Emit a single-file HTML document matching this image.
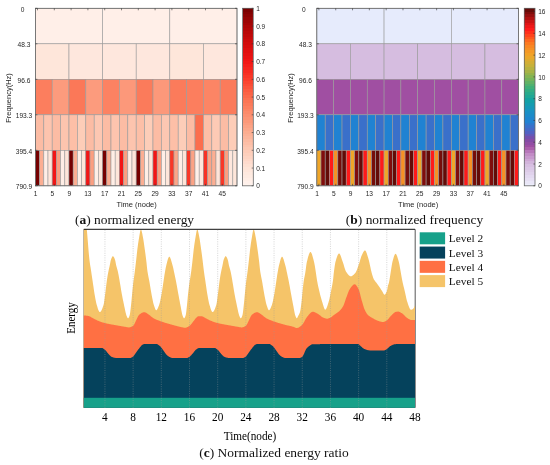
<!DOCTYPE html>
<html><head><meta charset="utf-8"><title>figure</title><style>html,body{margin:0;padding:0;background:#fff}svg{display:block}</style></head><body>
<svg width="550" height="465" viewBox="0 0 550 465">
<rect width="550" height="465" fill="#fff"/>
<rect x="35.40" y="8.30" width="67.20" height="35.50" fill="#ffefe8" stroke="#9a9a9a" stroke-width="0.6"/>
<rect x="102.60" y="8.30" width="67.20" height="35.50" fill="#ffefe8" stroke="#9a9a9a" stroke-width="0.6"/>
<rect x="169.80" y="8.30" width="67.20" height="35.50" fill="#ffefe8" stroke="#9a9a9a" stroke-width="0.6"/>
<rect x="35.40" y="43.80" width="33.60" height="35.50" fill="#fee6da" stroke="#9a9a9a" stroke-width="0.6"/>
<rect x="69.00" y="43.80" width="33.60" height="35.50" fill="#fee7dd" stroke="#9a9a9a" stroke-width="0.6"/>
<rect x="102.60" y="43.80" width="33.60" height="35.50" fill="#fee7dd" stroke="#9a9a9a" stroke-width="0.6"/>
<rect x="136.20" y="43.80" width="33.60" height="35.50" fill="#fee7dd" stroke="#9a9a9a" stroke-width="0.6"/>
<rect x="169.80" y="43.80" width="33.60" height="35.50" fill="#fee6da" stroke="#9a9a9a" stroke-width="0.6"/>
<rect x="203.40" y="43.80" width="33.60" height="35.50" fill="#fee7dd" stroke="#9a9a9a" stroke-width="0.6"/>
<rect x="35.40" y="79.30" width="16.80" height="35.50" fill="#fc7e5e" stroke="#9a9a9a" stroke-width="0.6"/>
<rect x="52.20" y="79.30" width="16.80" height="35.50" fill="#fc9b7d" stroke="#9a9a9a" stroke-width="0.6"/>
<rect x="69.00" y="79.30" width="16.80" height="35.50" fill="#fb7858" stroke="#9a9a9a" stroke-width="0.6"/>
<rect x="85.80" y="79.30" width="16.80" height="35.50" fill="#fc9b7d" stroke="#9a9a9a" stroke-width="0.6"/>
<rect x="102.60" y="79.30" width="16.80" height="35.50" fill="#fc8262" stroke="#9a9a9a" stroke-width="0.6"/>
<rect x="119.40" y="79.30" width="16.80" height="35.50" fill="#fc987a" stroke="#9a9a9a" stroke-width="0.6"/>
<rect x="136.20" y="79.30" width="16.80" height="35.50" fill="#fb7b5b" stroke="#9a9a9a" stroke-width="0.6"/>
<rect x="153.00" y="79.30" width="16.80" height="35.50" fill="#fc987a" stroke="#9a9a9a" stroke-width="0.6"/>
<rect x="169.80" y="79.30" width="16.80" height="35.50" fill="#fb7b5b" stroke="#9a9a9a" stroke-width="0.6"/>
<rect x="186.60" y="79.30" width="16.80" height="35.50" fill="#fc7e5e" stroke="#9a9a9a" stroke-width="0.6"/>
<rect x="203.40" y="79.30" width="16.80" height="35.50" fill="#fc8565" stroke="#9a9a9a" stroke-width="0.6"/>
<rect x="220.20" y="79.30" width="16.80" height="35.50" fill="#fb7b5b" stroke="#9a9a9a" stroke-width="0.6"/>
<rect x="35.40" y="114.80" width="8.40" height="35.50" fill="#fcbca4" stroke="#9a9a9a" stroke-width="0.6"/>
<rect x="43.80" y="114.80" width="8.40" height="35.50" fill="#fdc4ae" stroke="#9a9a9a" stroke-width="0.6"/>
<rect x="52.20" y="114.80" width="8.40" height="35.50" fill="#fcbca4" stroke="#9a9a9a" stroke-width="0.6"/>
<rect x="60.60" y="114.80" width="8.40" height="35.50" fill="#fdc4ae" stroke="#9a9a9a" stroke-width="0.6"/>
<rect x="69.00" y="114.80" width="8.40" height="35.50" fill="#fdbfa7" stroke="#9a9a9a" stroke-width="0.6"/>
<rect x="77.40" y="114.80" width="8.40" height="35.50" fill="#fdcdb8" stroke="#9a9a9a" stroke-width="0.6"/>
<rect x="85.80" y="114.80" width="8.40" height="35.50" fill="#fcbca4" stroke="#9a9a9a" stroke-width="0.6"/>
<rect x="94.20" y="114.80" width="8.40" height="35.50" fill="#fdc7b2" stroke="#9a9a9a" stroke-width="0.6"/>
<rect x="102.60" y="114.80" width="8.40" height="35.50" fill="#fcbca4" stroke="#9a9a9a" stroke-width="0.6"/>
<rect x="111.00" y="114.80" width="8.40" height="35.50" fill="#fdc4ae" stroke="#9a9a9a" stroke-width="0.6"/>
<rect x="119.40" y="114.80" width="8.40" height="35.50" fill="#fcbca4" stroke="#9a9a9a" stroke-width="0.6"/>
<rect x="127.80" y="114.80" width="8.40" height="35.50" fill="#fdc4ae" stroke="#9a9a9a" stroke-width="0.6"/>
<rect x="136.20" y="114.80" width="8.40" height="35.50" fill="#fdbfa7" stroke="#9a9a9a" stroke-width="0.6"/>
<rect x="144.60" y="114.80" width="8.40" height="35.50" fill="#fdcdb8" stroke="#9a9a9a" stroke-width="0.6"/>
<rect x="153.00" y="114.80" width="8.40" height="35.50" fill="#fcbca4" stroke="#9a9a9a" stroke-width="0.6"/>
<rect x="161.40" y="114.80" width="8.40" height="35.50" fill="#fdc7b2" stroke="#9a9a9a" stroke-width="0.6"/>
<rect x="169.80" y="114.80" width="8.40" height="35.50" fill="#fdbfa7" stroke="#9a9a9a" stroke-width="0.6"/>
<rect x="178.20" y="114.80" width="8.40" height="35.50" fill="#fdcdb8" stroke="#9a9a9a" stroke-width="0.6"/>
<rect x="186.60" y="114.80" width="8.40" height="35.50" fill="#fcbca4" stroke="#9a9a9a" stroke-width="0.6"/>
<rect x="195.00" y="114.80" width="8.40" height="35.50" fill="#fb6e4e" stroke="#9a9a9a" stroke-width="0.6"/>
<rect x="203.40" y="114.80" width="8.40" height="35.50" fill="#fdbfa7" stroke="#9a9a9a" stroke-width="0.6"/>
<rect x="211.80" y="114.80" width="8.40" height="35.50" fill="#fdcab5" stroke="#9a9a9a" stroke-width="0.6"/>
<rect x="220.20" y="114.80" width="8.40" height="35.50" fill="#fcbca4" stroke="#9a9a9a" stroke-width="0.6"/>
<rect x="228.60" y="114.80" width="8.40" height="35.50" fill="#fdcdb8" stroke="#9a9a9a" stroke-width="0.6"/>
<rect x="35.40" y="150.30" width="4.20" height="35.50" fill="#760000" stroke="#9a9a9a" stroke-width="0.6"/>
<rect x="39.60" y="150.30" width="4.20" height="35.50" fill="#fcae92" stroke="#9a9a9a" stroke-width="0.6"/>
<rect x="43.80" y="150.30" width="4.20" height="35.50" fill="#ffeee6" stroke="#9a9a9a" stroke-width="0.6"/>
<rect x="48.00" y="150.30" width="4.20" height="35.50" fill="#fee6da" stroke="#9a9a9a" stroke-width="0.6"/>
<rect x="52.20" y="150.30" width="4.20" height="35.50" fill="#f21515" stroke="#9a9a9a" stroke-width="0.6"/>
<rect x="56.40" y="150.30" width="4.20" height="35.50" fill="#fc9e80" stroke="#9a9a9a" stroke-width="0.6"/>
<rect x="60.60" y="150.30" width="4.20" height="35.50" fill="#ffeee6" stroke="#9a9a9a" stroke-width="0.6"/>
<rect x="64.80" y="150.30" width="4.20" height="35.50" fill="#fee6da" stroke="#9a9a9a" stroke-width="0.6"/>
<rect x="69.00" y="150.30" width="4.20" height="35.50" fill="#760000" stroke="#9a9a9a" stroke-width="0.6"/>
<rect x="73.20" y="150.30" width="4.20" height="35.50" fill="#fcae92" stroke="#9a9a9a" stroke-width="0.6"/>
<rect x="77.40" y="150.30" width="4.20" height="35.50" fill="#ffeee6" stroke="#9a9a9a" stroke-width="0.6"/>
<rect x="81.60" y="150.30" width="4.20" height="35.50" fill="#fee6da" stroke="#9a9a9a" stroke-width="0.6"/>
<rect x="85.80" y="150.30" width="4.20" height="35.50" fill="#f21515" stroke="#9a9a9a" stroke-width="0.6"/>
<rect x="90.00" y="150.30" width="4.20" height="35.50" fill="#fc9e80" stroke="#9a9a9a" stroke-width="0.6"/>
<rect x="94.20" y="150.30" width="4.20" height="35.50" fill="#ffeee6" stroke="#9a9a9a" stroke-width="0.6"/>
<rect x="98.40" y="150.30" width="4.20" height="35.50" fill="#fee6da" stroke="#9a9a9a" stroke-width="0.6"/>
<rect x="102.60" y="150.30" width="4.20" height="35.50" fill="#760000" stroke="#9a9a9a" stroke-width="0.6"/>
<rect x="106.80" y="150.30" width="4.20" height="35.50" fill="#fcae92" stroke="#9a9a9a" stroke-width="0.6"/>
<rect x="111.00" y="150.30" width="4.20" height="35.50" fill="#ffeee6" stroke="#9a9a9a" stroke-width="0.6"/>
<rect x="115.20" y="150.30" width="4.20" height="35.50" fill="#fee6da" stroke="#9a9a9a" stroke-width="0.6"/>
<rect x="119.40" y="150.30" width="4.20" height="35.50" fill="#f21515" stroke="#9a9a9a" stroke-width="0.6"/>
<rect x="123.60" y="150.30" width="4.20" height="35.50" fill="#fc9e80" stroke="#9a9a9a" stroke-width="0.6"/>
<rect x="127.80" y="150.30" width="4.20" height="35.50" fill="#ffeee6" stroke="#9a9a9a" stroke-width="0.6"/>
<rect x="132.00" y="150.30" width="4.20" height="35.50" fill="#fee6da" stroke="#9a9a9a" stroke-width="0.6"/>
<rect x="136.20" y="150.30" width="4.20" height="35.50" fill="#760000" stroke="#9a9a9a" stroke-width="0.6"/>
<rect x="140.40" y="150.30" width="4.20" height="35.50" fill="#fcae92" stroke="#9a9a9a" stroke-width="0.6"/>
<rect x="144.60" y="150.30" width="4.20" height="35.50" fill="#ffeee6" stroke="#9a9a9a" stroke-width="0.6"/>
<rect x="148.80" y="150.30" width="4.20" height="35.50" fill="#fee6da" stroke="#9a9a9a" stroke-width="0.6"/>
<rect x="153.00" y="150.30" width="4.20" height="35.50" fill="#f21515" stroke="#9a9a9a" stroke-width="0.6"/>
<rect x="157.20" y="150.30" width="4.20" height="35.50" fill="#fc9e80" stroke="#9a9a9a" stroke-width="0.6"/>
<rect x="161.40" y="150.30" width="4.20" height="35.50" fill="#ffeee6" stroke="#9a9a9a" stroke-width="0.6"/>
<rect x="165.60" y="150.30" width="4.20" height="35.50" fill="#fee6da" stroke="#9a9a9a" stroke-width="0.6"/>
<rect x="169.80" y="150.30" width="4.20" height="35.50" fill="#f93727" stroke="#9a9a9a" stroke-width="0.6"/>
<rect x="174.00" y="150.30" width="4.20" height="35.50" fill="#fca588" stroke="#9a9a9a" stroke-width="0.6"/>
<rect x="178.20" y="150.30" width="4.20" height="35.50" fill="#ffeee6" stroke="#9a9a9a" stroke-width="0.6"/>
<rect x="182.40" y="150.30" width="4.20" height="35.50" fill="#fee4d8" stroke="#9a9a9a" stroke-width="0.6"/>
<rect x="186.60" y="150.30" width="4.20" height="35.50" fill="#f93727" stroke="#9a9a9a" stroke-width="0.6"/>
<rect x="190.80" y="150.30" width="4.20" height="35.50" fill="#fca284" stroke="#9a9a9a" stroke-width="0.6"/>
<rect x="195.00" y="150.30" width="4.20" height="35.50" fill="#ffefe8" stroke="#9a9a9a" stroke-width="0.6"/>
<rect x="199.20" y="150.30" width="4.20" height="35.50" fill="#fee7dd" stroke="#9a9a9a" stroke-width="0.6"/>
<rect x="203.40" y="150.30" width="4.20" height="35.50" fill="#f83225" stroke="#9a9a9a" stroke-width="0.6"/>
<rect x="207.60" y="150.30" width="4.20" height="35.50" fill="#fca588" stroke="#9a9a9a" stroke-width="0.6"/>
<rect x="211.80" y="150.30" width="4.20" height="35.50" fill="#fcae92" stroke="#9a9a9a" stroke-width="0.6"/>
<rect x="216.00" y="150.30" width="4.20" height="35.50" fill="#fee4d8" stroke="#9a9a9a" stroke-width="0.6"/>
<rect x="220.20" y="150.30" width="4.20" height="35.50" fill="#f93727" stroke="#9a9a9a" stroke-width="0.6"/>
<rect x="224.40" y="150.30" width="4.20" height="35.50" fill="#fc9e80" stroke="#9a9a9a" stroke-width="0.6"/>
<rect x="228.60" y="150.30" width="4.20" height="35.50" fill="#fee7dd" stroke="#9a9a9a" stroke-width="0.6"/>
<rect x="232.80" y="150.30" width="4.20" height="35.50" fill="#fee6da" stroke="#9a9a9a" stroke-width="0.6"/>
<rect x="35.40" y="8.30" width="201.60" height="177.50" fill="none" stroke="#666" stroke-width="0.8"/>
<line x1="37.50" y1="185.80" x2="37.50" y2="183.80" stroke="#333" stroke-width="0.6"/>
<line x1="37.50" y1="8.30" x2="37.50" y2="10.30" stroke="#333" stroke-width="0.6"/>
<text x="33.80" y="196" font-family="Liberation Sans, Arial, sans-serif" font-size="6.6" fill="#262626">1</text>
<line x1="54.30" y1="185.80" x2="54.30" y2="183.80" stroke="#333" stroke-width="0.6"/>
<line x1="54.30" y1="8.30" x2="54.30" y2="10.30" stroke="#333" stroke-width="0.6"/>
<text x="50.60" y="196" font-family="Liberation Sans, Arial, sans-serif" font-size="6.6" fill="#262626">5</text>
<line x1="71.10" y1="185.80" x2="71.10" y2="183.80" stroke="#333" stroke-width="0.6"/>
<line x1="71.10" y1="8.30" x2="71.10" y2="10.30" stroke="#333" stroke-width="0.6"/>
<text x="67.40" y="196" font-family="Liberation Sans, Arial, sans-serif" font-size="6.6" fill="#262626">9</text>
<line x1="87.90" y1="185.80" x2="87.90" y2="183.80" stroke="#333" stroke-width="0.6"/>
<line x1="87.90" y1="8.30" x2="87.90" y2="10.30" stroke="#333" stroke-width="0.6"/>
<text x="84.20" y="196" font-family="Liberation Sans, Arial, sans-serif" font-size="6.6" fill="#262626">13</text>
<line x1="104.70" y1="185.80" x2="104.70" y2="183.80" stroke="#333" stroke-width="0.6"/>
<line x1="104.70" y1="8.30" x2="104.70" y2="10.30" stroke="#333" stroke-width="0.6"/>
<text x="101.00" y="196" font-family="Liberation Sans, Arial, sans-serif" font-size="6.6" fill="#262626">17</text>
<line x1="121.50" y1="185.80" x2="121.50" y2="183.80" stroke="#333" stroke-width="0.6"/>
<line x1="121.50" y1="8.30" x2="121.50" y2="10.30" stroke="#333" stroke-width="0.6"/>
<text x="117.80" y="196" font-family="Liberation Sans, Arial, sans-serif" font-size="6.6" fill="#262626">21</text>
<line x1="138.30" y1="185.80" x2="138.30" y2="183.80" stroke="#333" stroke-width="0.6"/>
<line x1="138.30" y1="8.30" x2="138.30" y2="10.30" stroke="#333" stroke-width="0.6"/>
<text x="134.60" y="196" font-family="Liberation Sans, Arial, sans-serif" font-size="6.6" fill="#262626">25</text>
<line x1="155.10" y1="185.80" x2="155.10" y2="183.80" stroke="#333" stroke-width="0.6"/>
<line x1="155.10" y1="8.30" x2="155.10" y2="10.30" stroke="#333" stroke-width="0.6"/>
<text x="151.40" y="196" font-family="Liberation Sans, Arial, sans-serif" font-size="6.6" fill="#262626">29</text>
<line x1="171.90" y1="185.80" x2="171.90" y2="183.80" stroke="#333" stroke-width="0.6"/>
<line x1="171.90" y1="8.30" x2="171.90" y2="10.30" stroke="#333" stroke-width="0.6"/>
<text x="168.20" y="196" font-family="Liberation Sans, Arial, sans-serif" font-size="6.6" fill="#262626">33</text>
<line x1="188.70" y1="185.80" x2="188.70" y2="183.80" stroke="#333" stroke-width="0.6"/>
<line x1="188.70" y1="8.30" x2="188.70" y2="10.30" stroke="#333" stroke-width="0.6"/>
<text x="185.00" y="196" font-family="Liberation Sans, Arial, sans-serif" font-size="6.6" fill="#262626">37</text>
<line x1="205.50" y1="185.80" x2="205.50" y2="183.80" stroke="#333" stroke-width="0.6"/>
<line x1="205.50" y1="8.30" x2="205.50" y2="10.30" stroke="#333" stroke-width="0.6"/>
<text x="201.80" y="196" font-family="Liberation Sans, Arial, sans-serif" font-size="6.6" fill="#262626">41</text>
<line x1="222.30" y1="185.80" x2="222.30" y2="183.80" stroke="#333" stroke-width="0.6"/>
<line x1="222.30" y1="8.30" x2="222.30" y2="10.30" stroke="#333" stroke-width="0.6"/>
<text x="218.60" y="196" font-family="Liberation Sans, Arial, sans-serif" font-size="6.6" fill="#262626">45</text>
<line x1="35.40" y1="8.30" x2="37.40" y2="8.30" stroke="#333" stroke-width="0.6"/>
<line x1="237.00" y1="8.30" x2="235.00" y2="8.30" stroke="#333" stroke-width="0.6"/>
<text x="22.50" y="11.80" text-anchor="middle" font-family="Liberation Sans, Arial, sans-serif" font-size="6.6" fill="#262626">0</text>
<line x1="35.40" y1="43.80" x2="37.40" y2="43.80" stroke="#333" stroke-width="0.6"/>
<line x1="237.00" y1="43.80" x2="235.00" y2="43.80" stroke="#333" stroke-width="0.6"/>
<text x="24.00" y="47.30" text-anchor="middle" font-family="Liberation Sans, Arial, sans-serif" font-size="6.6" fill="#262626">48.3</text>
<line x1="35.40" y1="79.30" x2="37.40" y2="79.30" stroke="#333" stroke-width="0.6"/>
<line x1="237.00" y1="79.30" x2="235.00" y2="79.30" stroke="#333" stroke-width="0.6"/>
<text x="24.00" y="82.80" text-anchor="middle" font-family="Liberation Sans, Arial, sans-serif" font-size="6.6" fill="#262626">96.6</text>
<line x1="35.40" y1="114.80" x2="37.40" y2="114.80" stroke="#333" stroke-width="0.6"/>
<line x1="237.00" y1="114.80" x2="235.00" y2="114.80" stroke="#333" stroke-width="0.6"/>
<text x="24.00" y="118.30" text-anchor="middle" font-family="Liberation Sans, Arial, sans-serif" font-size="6.6" fill="#262626">193.3</text>
<line x1="35.40" y1="150.30" x2="37.40" y2="150.30" stroke="#333" stroke-width="0.6"/>
<line x1="237.00" y1="150.30" x2="235.00" y2="150.30" stroke="#333" stroke-width="0.6"/>
<text x="24.00" y="153.80" text-anchor="middle" font-family="Liberation Sans, Arial, sans-serif" font-size="6.6" fill="#262626">395.4</text>
<line x1="35.40" y1="185.80" x2="37.40" y2="185.80" stroke="#333" stroke-width="0.6"/>
<line x1="237.00" y1="185.80" x2="235.00" y2="185.80" stroke="#333" stroke-width="0.6"/>
<text x="24.00" y="189.30" text-anchor="middle" font-family="Liberation Sans, Arial, sans-serif" font-size="6.6" fill="#262626">790.9</text>
<text x="136.70" y="206.6" text-anchor="middle" font-family="Liberation Sans, Arial, sans-serif" font-size="7.5" fill="#262626">Time (node)</text>
<text transform="translate(11.10,98) rotate(-90)" text-anchor="middle" font-family="Liberation Sans, Arial, sans-serif" font-size="7.5" fill="#262626">Frequency(Hz)</text>
<rect x="242.50" y="183.03" width="10.80" height="3.27" fill="#fff3ed" shape-rendering="crispEdges"/>
<rect x="242.50" y="180.25" width="10.80" height="3.27" fill="#fff0ea" shape-rendering="crispEdges"/>
<rect x="242.50" y="177.48" width="10.80" height="3.27" fill="#ffeee6" shape-rendering="crispEdges"/>
<rect x="242.50" y="174.71" width="10.80" height="3.27" fill="#feebe2" shape-rendering="crispEdges"/>
<rect x="242.50" y="171.93" width="10.80" height="3.27" fill="#fee9df" shape-rendering="crispEdges"/>
<rect x="242.50" y="169.16" width="10.80" height="3.27" fill="#fee6db" shape-rendering="crispEdges"/>
<rect x="242.50" y="166.39" width="10.80" height="3.27" fill="#fee4d7" shape-rendering="crispEdges"/>
<rect x="242.50" y="163.61" width="10.80" height="3.27" fill="#fee0d2" shape-rendering="crispEdges"/>
<rect x="242.50" y="160.84" width="10.80" height="3.27" fill="#fedbcd" shape-rendering="crispEdges"/>
<rect x="242.50" y="158.07" width="10.80" height="3.27" fill="#fed7c7" shape-rendering="crispEdges"/>
<rect x="242.50" y="155.29" width="10.80" height="3.27" fill="#fdd3c2" shape-rendering="crispEdges"/>
<rect x="242.50" y="152.52" width="10.80" height="3.27" fill="#fdcfbc" shape-rendering="crispEdges"/>
<rect x="242.50" y="149.75" width="10.80" height="3.27" fill="#fdcbb7" shape-rendering="crispEdges"/>
<rect x="242.50" y="146.97" width="10.80" height="3.27" fill="#fdc7b1" shape-rendering="crispEdges"/>
<rect x="242.50" y="144.20" width="10.80" height="3.27" fill="#fdc3ac" shape-rendering="crispEdges"/>
<rect x="242.50" y="141.43" width="10.80" height="3.27" fill="#fdbea6" shape-rendering="crispEdges"/>
<rect x="242.50" y="138.65" width="10.80" height="3.27" fill="#fcbaa1" shape-rendering="crispEdges"/>
<rect x="242.50" y="135.88" width="10.80" height="3.27" fill="#fcb59b" shape-rendering="crispEdges"/>
<rect x="242.50" y="133.10" width="10.80" height="3.27" fill="#fcb196" shape-rendering="crispEdges"/>
<rect x="242.50" y="130.33" width="10.80" height="3.27" fill="#fcad90" shape-rendering="crispEdges"/>
<rect x="242.50" y="127.56" width="10.80" height="3.27" fill="#fca88b" shape-rendering="crispEdges"/>
<rect x="242.50" y="124.78" width="10.80" height="3.27" fill="#fca385" shape-rendering="crispEdges"/>
<rect x="242.50" y="122.01" width="10.80" height="3.27" fill="#fc9e80" shape-rendering="crispEdges"/>
<rect x="242.50" y="119.24" width="10.80" height="3.27" fill="#fc997a" shape-rendering="crispEdges"/>
<rect x="242.50" y="116.46" width="10.80" height="3.27" fill="#fc9475" shape-rendering="crispEdges"/>
<rect x="242.50" y="113.69" width="10.80" height="3.27" fill="#fc8f70" shape-rendering="crispEdges"/>
<rect x="242.50" y="110.92" width="10.80" height="3.27" fill="#fc8a6a" shape-rendering="crispEdges"/>
<rect x="242.50" y="108.14" width="10.80" height="3.27" fill="#fc8565" shape-rendering="crispEdges"/>
<rect x="242.50" y="105.37" width="10.80" height="3.27" fill="#fc8060" shape-rendering="crispEdges"/>
<rect x="242.50" y="102.60" width="10.80" height="3.27" fill="#fb7b5b" shape-rendering="crispEdges"/>
<rect x="242.50" y="99.82" width="10.80" height="3.27" fill="#fb7656" shape-rendering="crispEdges"/>
<rect x="242.50" y="97.05" width="10.80" height="3.27" fill="#fb7151" shape-rendering="crispEdges"/>
<rect x="242.50" y="94.28" width="10.80" height="3.27" fill="#fb6a4b" shape-rendering="crispEdges"/>
<rect x="242.50" y="91.50" width="10.80" height="3.27" fill="#fb6346" shape-rendering="crispEdges"/>
<rect x="242.50" y="88.73" width="10.80" height="3.27" fill="#fb5c41" shape-rendering="crispEdges"/>
<rect x="242.50" y="85.96" width="10.80" height="3.27" fill="#fb543b" shape-rendering="crispEdges"/>
<rect x="242.50" y="83.18" width="10.80" height="3.27" fill="#fb4d36" shape-rendering="crispEdges"/>
<rect x="242.50" y="80.41" width="10.80" height="3.27" fill="#fb4631" shape-rendering="crispEdges"/>
<rect x="242.50" y="77.64" width="10.80" height="3.27" fill="#fb3e2c" shape-rendering="crispEdges"/>
<rect x="242.50" y="74.86" width="10.80" height="3.27" fill="#f93828" shape-rendering="crispEdges"/>
<rect x="242.50" y="72.09" width="10.80" height="3.27" fill="#f83124" shape-rendering="crispEdges"/>
<rect x="242.50" y="69.32" width="10.80" height="3.27" fill="#f72b21" shape-rendering="crispEdges"/>
<rect x="242.50" y="66.54" width="10.80" height="3.27" fill="#f5241d" shape-rendering="crispEdges"/>
<rect x="242.50" y="63.77" width="10.80" height="3.27" fill="#f41e1a" shape-rendering="crispEdges"/>
<rect x="242.50" y="61.00" width="10.80" height="3.27" fill="#f21716" shape-rendering="crispEdges"/>
<rect x="242.50" y="58.22" width="10.80" height="3.27" fill="#ef1414" shape-rendering="crispEdges"/>
<rect x="242.50" y="55.45" width="10.80" height="3.27" fill="#ea1212" shape-rendering="crispEdges"/>
<rect x="242.50" y="52.68" width="10.80" height="3.27" fill="#e51111" shape-rendering="crispEdges"/>
<rect x="242.50" y="49.90" width="10.80" height="3.27" fill="#e10f0f" shape-rendering="crispEdges"/>
<rect x="242.50" y="47.13" width="10.80" height="3.27" fill="#dc0e0e" shape-rendering="crispEdges"/>
<rect x="242.50" y="44.35" width="10.80" height="3.27" fill="#d70c0c" shape-rendering="crispEdges"/>
<rect x="242.50" y="41.58" width="10.80" height="3.27" fill="#d20b0b" shape-rendering="crispEdges"/>
<rect x="242.50" y="38.81" width="10.80" height="3.27" fill="#cc0a0a" shape-rendering="crispEdges"/>
<rect x="242.50" y="36.03" width="10.80" height="3.27" fill="#c60909" shape-rendering="crispEdges"/>
<rect x="242.50" y="33.26" width="10.80" height="3.27" fill="#c00808" shape-rendering="crispEdges"/>
<rect x="242.50" y="30.49" width="10.80" height="3.27" fill="#ba0707" shape-rendering="crispEdges"/>
<rect x="242.50" y="27.71" width="10.80" height="3.27" fill="#b40606" shape-rendering="crispEdges"/>
<rect x="242.50" y="24.94" width="10.80" height="3.27" fill="#ae0505" shape-rendering="crispEdges"/>
<rect x="242.50" y="22.17" width="10.80" height="3.27" fill="#a50404" shape-rendering="crispEdges"/>
<rect x="242.50" y="19.39" width="10.80" height="3.27" fill="#9d0404" shape-rendering="crispEdges"/>
<rect x="242.50" y="16.62" width="10.80" height="3.27" fill="#940303" shape-rendering="crispEdges"/>
<rect x="242.50" y="13.85" width="10.80" height="3.27" fill="#8b0202" shape-rendering="crispEdges"/>
<rect x="242.50" y="11.07" width="10.80" height="3.27" fill="#830101" shape-rendering="crispEdges"/>
<rect x="242.50" y="8.30" width="10.80" height="3.27" fill="#7a0000" shape-rendering="crispEdges"/>
<rect x="242.50" y="8.30" width="10.80" height="177.50" fill="none" stroke="#666" stroke-width="0.8"/>
<line x1="253.30" y1="185.80" x2="251.70" y2="185.80" stroke="#333" stroke-width="0.6"/>
<text x="256.20" y="188.40" font-family="Liberation Sans, Arial, sans-serif" font-size="6.5" fill="#262626">0</text>
<line x1="253.30" y1="168.05" x2="251.70" y2="168.05" stroke="#333" stroke-width="0.6"/>
<text x="256.20" y="170.65" font-family="Liberation Sans, Arial, sans-serif" font-size="6.5" fill="#262626">0.1</text>
<line x1="253.30" y1="150.30" x2="251.70" y2="150.30" stroke="#333" stroke-width="0.6"/>
<text x="256.20" y="152.90" font-family="Liberation Sans, Arial, sans-serif" font-size="6.5" fill="#262626">0.2</text>
<line x1="253.30" y1="132.55" x2="251.70" y2="132.55" stroke="#333" stroke-width="0.6"/>
<text x="256.20" y="135.15" font-family="Liberation Sans, Arial, sans-serif" font-size="6.5" fill="#262626">0.3</text>
<line x1="253.30" y1="114.80" x2="251.70" y2="114.80" stroke="#333" stroke-width="0.6"/>
<text x="256.20" y="117.40" font-family="Liberation Sans, Arial, sans-serif" font-size="6.5" fill="#262626">0.4</text>
<line x1="253.30" y1="97.05" x2="251.70" y2="97.05" stroke="#333" stroke-width="0.6"/>
<text x="256.20" y="99.65" font-family="Liberation Sans, Arial, sans-serif" font-size="6.5" fill="#262626">0.5</text>
<line x1="253.30" y1="79.30" x2="251.70" y2="79.30" stroke="#333" stroke-width="0.6"/>
<text x="256.20" y="81.90" font-family="Liberation Sans, Arial, sans-serif" font-size="6.5" fill="#262626">0.6</text>
<line x1="253.30" y1="61.55" x2="251.70" y2="61.55" stroke="#333" stroke-width="0.6"/>
<text x="256.20" y="64.15" font-family="Liberation Sans, Arial, sans-serif" font-size="6.5" fill="#262626">0.7</text>
<line x1="253.30" y1="43.80" x2="251.70" y2="43.80" stroke="#333" stroke-width="0.6"/>
<text x="256.20" y="46.40" font-family="Liberation Sans, Arial, sans-serif" font-size="6.5" fill="#262626">0.8</text>
<line x1="253.30" y1="26.05" x2="251.70" y2="26.05" stroke="#333" stroke-width="0.6"/>
<text x="256.20" y="28.65" font-family="Liberation Sans, Arial, sans-serif" font-size="6.5" fill="#262626">0.9</text>
<line x1="253.30" y1="8.30" x2="251.70" y2="8.30" stroke="#333" stroke-width="0.6"/>
<text x="256.20" y="10.90" font-family="Liberation Sans, Arial, sans-serif" font-size="6.5" fill="#262626">1</text>
<rect x="316.80" y="8.30" width="67.27" height="35.50" fill="#e6ebfc" stroke="#9a9a9a" stroke-width="0.6"/>
<rect x="384.07" y="8.30" width="67.27" height="35.50" fill="#e6ebfc" stroke="#9a9a9a" stroke-width="0.6"/>
<rect x="451.33" y="8.30" width="67.27" height="35.50" fill="#e6ebfc" stroke="#9a9a9a" stroke-width="0.6"/>
<rect x="316.80" y="43.80" width="33.63" height="35.50" fill="#d6bde0" stroke="#9a9a9a" stroke-width="0.6"/>
<rect x="350.43" y="43.80" width="33.63" height="35.50" fill="#d6bde0" stroke="#9a9a9a" stroke-width="0.6"/>
<rect x="384.07" y="43.80" width="33.63" height="35.50" fill="#d6bde0" stroke="#9a9a9a" stroke-width="0.6"/>
<rect x="417.70" y="43.80" width="33.63" height="35.50" fill="#d6bde0" stroke="#9a9a9a" stroke-width="0.6"/>
<rect x="451.33" y="43.80" width="33.63" height="35.50" fill="#d6bde0" stroke="#9a9a9a" stroke-width="0.6"/>
<rect x="484.97" y="43.80" width="33.63" height="35.50" fill="#d6bde0" stroke="#9a9a9a" stroke-width="0.6"/>
<rect x="316.80" y="79.30" width="16.82" height="35.50" fill="#a04fa2" stroke="#9a9a9a" stroke-width="0.6"/>
<rect x="333.62" y="79.30" width="16.82" height="35.50" fill="#a04fa2" stroke="#9a9a9a" stroke-width="0.6"/>
<rect x="350.43" y="79.30" width="16.82" height="35.50" fill="#a04fa2" stroke="#9a9a9a" stroke-width="0.6"/>
<rect x="367.25" y="79.30" width="16.82" height="35.50" fill="#a04fa2" stroke="#9a9a9a" stroke-width="0.6"/>
<rect x="384.07" y="79.30" width="16.82" height="35.50" fill="#a04fa2" stroke="#9a9a9a" stroke-width="0.6"/>
<rect x="400.88" y="79.30" width="16.82" height="35.50" fill="#a04fa2" stroke="#9a9a9a" stroke-width="0.6"/>
<rect x="417.70" y="79.30" width="16.82" height="35.50" fill="#a04fa2" stroke="#9a9a9a" stroke-width="0.6"/>
<rect x="434.52" y="79.30" width="16.82" height="35.50" fill="#a04fa2" stroke="#9a9a9a" stroke-width="0.6"/>
<rect x="451.33" y="79.30" width="16.82" height="35.50" fill="#a04fa2" stroke="#9a9a9a" stroke-width="0.6"/>
<rect x="468.15" y="79.30" width="16.82" height="35.50" fill="#a04fa2" stroke="#9a9a9a" stroke-width="0.6"/>
<rect x="484.97" y="79.30" width="16.82" height="35.50" fill="#a04fa2" stroke="#9a9a9a" stroke-width="0.6"/>
<rect x="501.78" y="79.30" width="16.82" height="35.50" fill="#a04fa2" stroke="#9a9a9a" stroke-width="0.6"/>
<rect x="316.80" y="114.80" width="8.41" height="35.50" fill="#2082d2" stroke="#9a9a9a" stroke-width="0.6"/>
<rect x="325.21" y="114.80" width="8.41" height="35.50" fill="#3a70ca" stroke="#9a9a9a" stroke-width="0.6"/>
<rect x="333.62" y="114.80" width="8.41" height="35.50" fill="#2082d2" stroke="#9a9a9a" stroke-width="0.6"/>
<rect x="342.03" y="114.80" width="8.41" height="35.50" fill="#3a70ca" stroke="#9a9a9a" stroke-width="0.6"/>
<rect x="350.43" y="114.80" width="8.41" height="35.50" fill="#2082d2" stroke="#9a9a9a" stroke-width="0.6"/>
<rect x="358.84" y="114.80" width="8.41" height="35.50" fill="#3a70ca" stroke="#9a9a9a" stroke-width="0.6"/>
<rect x="367.25" y="114.80" width="8.41" height="35.50" fill="#2082d2" stroke="#9a9a9a" stroke-width="0.6"/>
<rect x="375.66" y="114.80" width="8.41" height="35.50" fill="#3a70ca" stroke="#9a9a9a" stroke-width="0.6"/>
<rect x="384.07" y="114.80" width="8.41" height="35.50" fill="#2082d2" stroke="#9a9a9a" stroke-width="0.6"/>
<rect x="392.48" y="114.80" width="8.41" height="35.50" fill="#3a70ca" stroke="#9a9a9a" stroke-width="0.6"/>
<rect x="400.88" y="114.80" width="8.41" height="35.50" fill="#2082d2" stroke="#9a9a9a" stroke-width="0.6"/>
<rect x="409.29" y="114.80" width="8.41" height="35.50" fill="#3a70ca" stroke="#9a9a9a" stroke-width="0.6"/>
<rect x="417.70" y="114.80" width="8.41" height="35.50" fill="#2082d2" stroke="#9a9a9a" stroke-width="0.6"/>
<rect x="426.11" y="114.80" width="8.41" height="35.50" fill="#3a70ca" stroke="#9a9a9a" stroke-width="0.6"/>
<rect x="434.52" y="114.80" width="8.41" height="35.50" fill="#2082d2" stroke="#9a9a9a" stroke-width="0.6"/>
<rect x="442.93" y="114.80" width="8.41" height="35.50" fill="#3a70ca" stroke="#9a9a9a" stroke-width="0.6"/>
<rect x="451.33" y="114.80" width="8.41" height="35.50" fill="#2082d2" stroke="#9a9a9a" stroke-width="0.6"/>
<rect x="459.74" y="114.80" width="8.41" height="35.50" fill="#3a70ca" stroke="#9a9a9a" stroke-width="0.6"/>
<rect x="468.15" y="114.80" width="8.41" height="35.50" fill="#2082d2" stroke="#9a9a9a" stroke-width="0.6"/>
<rect x="476.56" y="114.80" width="8.41" height="35.50" fill="#3a70ca" stroke="#9a9a9a" stroke-width="0.6"/>
<rect x="484.97" y="114.80" width="8.41" height="35.50" fill="#2082d2" stroke="#9a9a9a" stroke-width="0.6"/>
<rect x="493.38" y="114.80" width="8.41" height="35.50" fill="#3a70ca" stroke="#9a9a9a" stroke-width="0.6"/>
<rect x="501.78" y="114.80" width="8.41" height="35.50" fill="#2082d2" stroke="#9a9a9a" stroke-width="0.6"/>
<rect x="510.19" y="114.80" width="8.41" height="35.50" fill="#3a70ca" stroke="#9a9a9a" stroke-width="0.6"/>
<rect x="316.80" y="150.30" width="4.20" height="35.50" fill="#f0a628" stroke="#9a9a9a" stroke-width="0.6"/>
<rect x="321.00" y="150.30" width="4.20" height="35.50" fill="#800d0c" stroke="#9a9a9a" stroke-width="0.6"/>
<rect x="325.21" y="150.30" width="4.20" height="35.50" fill="#630b07" stroke="#9a9a9a" stroke-width="0.6"/>
<rect x="329.41" y="150.30" width="4.20" height="35.50" fill="#ff1a1a" stroke="#9a9a9a" stroke-width="0.6"/>
<rect x="333.62" y="150.30" width="4.20" height="35.50" fill="#f79024" stroke="#9a9a9a" stroke-width="0.6"/>
<rect x="337.82" y="150.30" width="4.20" height="35.50" fill="#760d0a" stroke="#9a9a9a" stroke-width="0.6"/>
<rect x="342.03" y="150.30" width="4.20" height="35.50" fill="#630b07" stroke="#9a9a9a" stroke-width="0.6"/>
<rect x="346.23" y="150.30" width="4.20" height="35.50" fill="#ff1a1a" stroke="#9a9a9a" stroke-width="0.6"/>
<rect x="350.43" y="150.30" width="4.20" height="35.50" fill="#f0a628" stroke="#9a9a9a" stroke-width="0.6"/>
<rect x="354.64" y="150.30" width="4.20" height="35.50" fill="#800d0c" stroke="#9a9a9a" stroke-width="0.6"/>
<rect x="358.84" y="150.30" width="4.20" height="35.50" fill="#630b07" stroke="#9a9a9a" stroke-width="0.6"/>
<rect x="363.05" y="150.30" width="4.20" height="35.50" fill="#ff1a1a" stroke="#9a9a9a" stroke-width="0.6"/>
<rect x="367.25" y="150.30" width="4.20" height="35.50" fill="#f79024" stroke="#9a9a9a" stroke-width="0.6"/>
<rect x="371.45" y="150.30" width="4.20" height="35.50" fill="#760d0a" stroke="#9a9a9a" stroke-width="0.6"/>
<rect x="375.66" y="150.30" width="4.20" height="35.50" fill="#630b07" stroke="#9a9a9a" stroke-width="0.6"/>
<rect x="379.86" y="150.30" width="4.20" height="35.50" fill="#ff1a1a" stroke="#9a9a9a" stroke-width="0.6"/>
<rect x="384.07" y="150.30" width="4.20" height="35.50" fill="#f0a628" stroke="#9a9a9a" stroke-width="0.6"/>
<rect x="388.27" y="150.30" width="4.20" height="35.50" fill="#800d0c" stroke="#9a9a9a" stroke-width="0.6"/>
<rect x="392.48" y="150.30" width="4.20" height="35.50" fill="#630b07" stroke="#9a9a9a" stroke-width="0.6"/>
<rect x="396.68" y="150.30" width="4.20" height="35.50" fill="#ff1a1a" stroke="#9a9a9a" stroke-width="0.6"/>
<rect x="400.88" y="150.30" width="4.20" height="35.50" fill="#f79024" stroke="#9a9a9a" stroke-width="0.6"/>
<rect x="405.09" y="150.30" width="4.20" height="35.50" fill="#760d0a" stroke="#9a9a9a" stroke-width="0.6"/>
<rect x="409.29" y="150.30" width="4.20" height="35.50" fill="#630b07" stroke="#9a9a9a" stroke-width="0.6"/>
<rect x="413.50" y="150.30" width="4.20" height="35.50" fill="#ff1a1a" stroke="#9a9a9a" stroke-width="0.6"/>
<rect x="417.70" y="150.30" width="4.20" height="35.50" fill="#f0a628" stroke="#9a9a9a" stroke-width="0.6"/>
<rect x="421.90" y="150.30" width="4.20" height="35.50" fill="#800d0c" stroke="#9a9a9a" stroke-width="0.6"/>
<rect x="426.11" y="150.30" width="4.20" height="35.50" fill="#630b07" stroke="#9a9a9a" stroke-width="0.6"/>
<rect x="430.31" y="150.30" width="4.20" height="35.50" fill="#ff1a1a" stroke="#9a9a9a" stroke-width="0.6"/>
<rect x="434.52" y="150.30" width="4.20" height="35.50" fill="#f79024" stroke="#9a9a9a" stroke-width="0.6"/>
<rect x="438.72" y="150.30" width="4.20" height="35.50" fill="#760d0a" stroke="#9a9a9a" stroke-width="0.6"/>
<rect x="442.93" y="150.30" width="4.20" height="35.50" fill="#630b07" stroke="#9a9a9a" stroke-width="0.6"/>
<rect x="447.13" y="150.30" width="4.20" height="35.50" fill="#ff1a1a" stroke="#9a9a9a" stroke-width="0.6"/>
<rect x="451.33" y="150.30" width="4.20" height="35.50" fill="#f0a628" stroke="#9a9a9a" stroke-width="0.6"/>
<rect x="455.54" y="150.30" width="4.20" height="35.50" fill="#800d0c" stroke="#9a9a9a" stroke-width="0.6"/>
<rect x="459.74" y="150.30" width="4.20" height="35.50" fill="#630b07" stroke="#9a9a9a" stroke-width="0.6"/>
<rect x="463.95" y="150.30" width="4.20" height="35.50" fill="#ff1a1a" stroke="#9a9a9a" stroke-width="0.6"/>
<rect x="468.15" y="150.30" width="4.20" height="35.50" fill="#f79024" stroke="#9a9a9a" stroke-width="0.6"/>
<rect x="472.35" y="150.30" width="4.20" height="35.50" fill="#760d0a" stroke="#9a9a9a" stroke-width="0.6"/>
<rect x="476.56" y="150.30" width="4.20" height="35.50" fill="#630b07" stroke="#9a9a9a" stroke-width="0.6"/>
<rect x="480.76" y="150.30" width="4.20" height="35.50" fill="#ff1a1a" stroke="#9a9a9a" stroke-width="0.6"/>
<rect x="484.97" y="150.30" width="4.20" height="35.50" fill="#f0a628" stroke="#9a9a9a" stroke-width="0.6"/>
<rect x="489.17" y="150.30" width="4.20" height="35.50" fill="#800d0c" stroke="#9a9a9a" stroke-width="0.6"/>
<rect x="493.38" y="150.30" width="4.20" height="35.50" fill="#630b07" stroke="#9a9a9a" stroke-width="0.6"/>
<rect x="497.58" y="150.30" width="4.20" height="35.50" fill="#ff1a1a" stroke="#9a9a9a" stroke-width="0.6"/>
<rect x="501.78" y="150.30" width="4.20" height="35.50" fill="#f79024" stroke="#9a9a9a" stroke-width="0.6"/>
<rect x="505.99" y="150.30" width="4.20" height="35.50" fill="#760d0a" stroke="#9a9a9a" stroke-width="0.6"/>
<rect x="510.19" y="150.30" width="4.20" height="35.50" fill="#630b07" stroke="#9a9a9a" stroke-width="0.6"/>
<rect x="514.40" y="150.30" width="4.20" height="35.50" fill="#ff1a1a" stroke="#9a9a9a" stroke-width="0.6"/>
<rect x="316.80" y="8.30" width="201.80" height="177.50" fill="none" stroke="#666" stroke-width="0.8"/>
<line x1="318.90" y1="185.80" x2="318.90" y2="183.80" stroke="#333" stroke-width="0.6"/>
<line x1="318.90" y1="8.30" x2="318.90" y2="10.30" stroke="#333" stroke-width="0.6"/>
<text x="315.20" y="196" font-family="Liberation Sans, Arial, sans-serif" font-size="6.6" fill="#262626">1</text>
<line x1="335.72" y1="185.80" x2="335.72" y2="183.80" stroke="#333" stroke-width="0.6"/>
<line x1="335.72" y1="8.30" x2="335.72" y2="10.30" stroke="#333" stroke-width="0.6"/>
<text x="332.02" y="196" font-family="Liberation Sans, Arial, sans-serif" font-size="6.6" fill="#262626">5</text>
<line x1="352.54" y1="185.80" x2="352.54" y2="183.80" stroke="#333" stroke-width="0.6"/>
<line x1="352.54" y1="8.30" x2="352.54" y2="10.30" stroke="#333" stroke-width="0.6"/>
<text x="348.84" y="196" font-family="Liberation Sans, Arial, sans-serif" font-size="6.6" fill="#262626">9</text>
<line x1="369.35" y1="185.80" x2="369.35" y2="183.80" stroke="#333" stroke-width="0.6"/>
<line x1="369.35" y1="8.30" x2="369.35" y2="10.30" stroke="#333" stroke-width="0.6"/>
<text x="365.65" y="196" font-family="Liberation Sans, Arial, sans-serif" font-size="6.6" fill="#262626">13</text>
<line x1="386.17" y1="185.80" x2="386.17" y2="183.80" stroke="#333" stroke-width="0.6"/>
<line x1="386.17" y1="8.30" x2="386.17" y2="10.30" stroke="#333" stroke-width="0.6"/>
<text x="382.47" y="196" font-family="Liberation Sans, Arial, sans-serif" font-size="6.6" fill="#262626">17</text>
<line x1="402.99" y1="185.80" x2="402.99" y2="183.80" stroke="#333" stroke-width="0.6"/>
<line x1="402.99" y1="8.30" x2="402.99" y2="10.30" stroke="#333" stroke-width="0.6"/>
<text x="399.29" y="196" font-family="Liberation Sans, Arial, sans-serif" font-size="6.6" fill="#262626">21</text>
<line x1="419.80" y1="185.80" x2="419.80" y2="183.80" stroke="#333" stroke-width="0.6"/>
<line x1="419.80" y1="8.30" x2="419.80" y2="10.30" stroke="#333" stroke-width="0.6"/>
<text x="416.10" y="196" font-family="Liberation Sans, Arial, sans-serif" font-size="6.6" fill="#262626">25</text>
<line x1="436.62" y1="185.80" x2="436.62" y2="183.80" stroke="#333" stroke-width="0.6"/>
<line x1="436.62" y1="8.30" x2="436.62" y2="10.30" stroke="#333" stroke-width="0.6"/>
<text x="432.92" y="196" font-family="Liberation Sans, Arial, sans-serif" font-size="6.6" fill="#262626">29</text>
<line x1="453.44" y1="185.80" x2="453.44" y2="183.80" stroke="#333" stroke-width="0.6"/>
<line x1="453.44" y1="8.30" x2="453.44" y2="10.30" stroke="#333" stroke-width="0.6"/>
<text x="449.74" y="196" font-family="Liberation Sans, Arial, sans-serif" font-size="6.6" fill="#262626">33</text>
<line x1="470.25" y1="185.80" x2="470.25" y2="183.80" stroke="#333" stroke-width="0.6"/>
<line x1="470.25" y1="8.30" x2="470.25" y2="10.30" stroke="#333" stroke-width="0.6"/>
<text x="466.55" y="196" font-family="Liberation Sans, Arial, sans-serif" font-size="6.6" fill="#262626">37</text>
<line x1="487.07" y1="185.80" x2="487.07" y2="183.80" stroke="#333" stroke-width="0.6"/>
<line x1="487.07" y1="8.30" x2="487.07" y2="10.30" stroke="#333" stroke-width="0.6"/>
<text x="483.37" y="196" font-family="Liberation Sans, Arial, sans-serif" font-size="6.6" fill="#262626">41</text>
<line x1="503.89" y1="185.80" x2="503.89" y2="183.80" stroke="#333" stroke-width="0.6"/>
<line x1="503.89" y1="8.30" x2="503.89" y2="10.30" stroke="#333" stroke-width="0.6"/>
<text x="500.19" y="196" font-family="Liberation Sans, Arial, sans-serif" font-size="6.6" fill="#262626">45</text>
<line x1="316.80" y1="8.30" x2="318.80" y2="8.30" stroke="#333" stroke-width="0.6"/>
<line x1="518.60" y1="8.30" x2="516.60" y2="8.30" stroke="#333" stroke-width="0.6"/>
<text x="303.90" y="11.80" text-anchor="middle" font-family="Liberation Sans, Arial, sans-serif" font-size="6.6" fill="#262626">0</text>
<line x1="316.80" y1="43.80" x2="318.80" y2="43.80" stroke="#333" stroke-width="0.6"/>
<line x1="518.60" y1="43.80" x2="516.60" y2="43.80" stroke="#333" stroke-width="0.6"/>
<text x="305.40" y="47.30" text-anchor="middle" font-family="Liberation Sans, Arial, sans-serif" font-size="6.6" fill="#262626">48.3</text>
<line x1="316.80" y1="79.30" x2="318.80" y2="79.30" stroke="#333" stroke-width="0.6"/>
<line x1="518.60" y1="79.30" x2="516.60" y2="79.30" stroke="#333" stroke-width="0.6"/>
<text x="305.40" y="82.80" text-anchor="middle" font-family="Liberation Sans, Arial, sans-serif" font-size="6.6" fill="#262626">96.6</text>
<line x1="316.80" y1="114.80" x2="318.80" y2="114.80" stroke="#333" stroke-width="0.6"/>
<line x1="518.60" y1="114.80" x2="516.60" y2="114.80" stroke="#333" stroke-width="0.6"/>
<text x="305.40" y="118.30" text-anchor="middle" font-family="Liberation Sans, Arial, sans-serif" font-size="6.6" fill="#262626">193.3</text>
<line x1="316.80" y1="150.30" x2="318.80" y2="150.30" stroke="#333" stroke-width="0.6"/>
<line x1="518.60" y1="150.30" x2="516.60" y2="150.30" stroke="#333" stroke-width="0.6"/>
<text x="305.40" y="153.80" text-anchor="middle" font-family="Liberation Sans, Arial, sans-serif" font-size="6.6" fill="#262626">395.4</text>
<line x1="316.80" y1="185.80" x2="318.80" y2="185.80" stroke="#333" stroke-width="0.6"/>
<line x1="518.60" y1="185.80" x2="516.60" y2="185.80" stroke="#333" stroke-width="0.6"/>
<text x="305.40" y="189.30" text-anchor="middle" font-family="Liberation Sans, Arial, sans-serif" font-size="6.6" fill="#262626">790.9</text>
<text x="418.20" y="206.6" text-anchor="middle" font-family="Liberation Sans, Arial, sans-serif" font-size="7.5" fill="#262626">Time (node)</text>
<text transform="translate(292.50,98) rotate(-90)" text-anchor="middle" font-family="Liberation Sans, Arial, sans-serif" font-size="7.5" fill="#262626">Frequency(Hz)</text>
<rect x="524.30" y="183.03" width="10.70" height="3.27" fill="#ecedfb" shape-rendering="crispEdges"/>
<rect x="524.30" y="180.25" width="10.70" height="3.27" fill="#e9e6f7" shape-rendering="crispEdges"/>
<rect x="524.30" y="177.48" width="10.70" height="3.27" fill="#e6dff3" shape-rendering="crispEdges"/>
<rect x="524.30" y="174.71" width="10.70" height="3.27" fill="#e3d9f0" shape-rendering="crispEdges"/>
<rect x="524.30" y="171.93" width="10.70" height="3.27" fill="#e0d2ec" shape-rendering="crispEdges"/>
<rect x="524.30" y="169.16" width="10.70" height="3.27" fill="#ddcce8" shape-rendering="crispEdges"/>
<rect x="524.30" y="166.39" width="10.70" height="3.27" fill="#dac6e5" shape-rendering="crispEdges"/>
<rect x="524.30" y="163.61" width="10.70" height="3.27" fill="#d7bfe1" shape-rendering="crispEdges"/>
<rect x="524.30" y="160.84" width="10.70" height="3.27" fill="#d2b4db" shape-rendering="crispEdges"/>
<rect x="524.30" y="158.07" width="10.70" height="3.27" fill="#cda7d4" shape-rendering="crispEdges"/>
<rect x="524.30" y="155.29" width="10.70" height="3.27" fill="#c799cd" shape-rendering="crispEdges"/>
<rect x="524.30" y="152.52" width="10.70" height="3.27" fill="#c28cc6" shape-rendering="crispEdges"/>
<rect x="524.30" y="149.75" width="10.70" height="3.27" fill="#b777ba" shape-rendering="crispEdges"/>
<rect x="524.30" y="146.97" width="10.70" height="3.27" fill="#aa5eab" shape-rendering="crispEdges"/>
<rect x="524.30" y="144.20" width="10.70" height="3.27" fill="#9d4ea3" shape-rendering="crispEdges"/>
<rect x="524.30" y="141.43" width="10.70" height="3.27" fill="#914da4" shape-rendering="crispEdges"/>
<rect x="524.30" y="138.65" width="10.70" height="3.27" fill="#844ba5" shape-rendering="crispEdges"/>
<rect x="524.30" y="135.88" width="10.70" height="3.27" fill="#744fad" shape-rendering="crispEdges"/>
<rect x="524.30" y="133.10" width="10.70" height="3.27" fill="#6358b8" shape-rendering="crispEdges"/>
<rect x="524.30" y="130.33" width="10.70" height="3.27" fill="#5161c3" shape-rendering="crispEdges"/>
<rect x="524.30" y="127.56" width="10.70" height="3.27" fill="#4569c7" shape-rendering="crispEdges"/>
<rect x="524.30" y="124.78" width="10.70" height="3.27" fill="#3971cb" shape-rendering="crispEdges"/>
<rect x="524.30" y="122.01" width="10.70" height="3.27" fill="#2d79ce" shape-rendering="crispEdges"/>
<rect x="524.30" y="119.24" width="10.70" height="3.27" fill="#2182d2" shape-rendering="crispEdges"/>
<rect x="524.30" y="116.46" width="10.70" height="3.27" fill="#1e86ce" shape-rendering="crispEdges"/>
<rect x="524.30" y="113.69" width="10.70" height="3.27" fill="#1c8bc9" shape-rendering="crispEdges"/>
<rect x="524.30" y="110.92" width="10.70" height="3.27" fill="#1a8fc5" shape-rendering="crispEdges"/>
<rect x="524.30" y="108.14" width="10.70" height="3.27" fill="#1894c0" shape-rendering="crispEdges"/>
<rect x="524.30" y="105.37" width="10.70" height="3.27" fill="#1698b8" shape-rendering="crispEdges"/>
<rect x="524.30" y="102.60" width="10.70" height="3.27" fill="#159cb0" shape-rendering="crispEdges"/>
<rect x="524.30" y="99.82" width="10.70" height="3.27" fill="#13a0a7" shape-rendering="crispEdges"/>
<rect x="524.30" y="97.05" width="10.70" height="3.27" fill="#13a39f" shape-rendering="crispEdges"/>
<rect x="524.30" y="94.28" width="10.70" height="3.27" fill="#1ea795" shape-rendering="crispEdges"/>
<rect x="524.30" y="91.50" width="10.70" height="3.27" fill="#28aa8c" shape-rendering="crispEdges"/>
<rect x="524.30" y="88.73" width="10.70" height="3.27" fill="#33ad82" shape-rendering="crispEdges"/>
<rect x="524.30" y="85.96" width="10.70" height="3.27" fill="#3fb078" shape-rendering="crispEdges"/>
<rect x="524.30" y="83.18" width="10.70" height="3.27" fill="#50b16f" shape-rendering="crispEdges"/>
<rect x="524.30" y="80.41" width="10.70" height="3.27" fill="#61b265" shape-rendering="crispEdges"/>
<rect x="524.30" y="77.64" width="10.70" height="3.27" fill="#73b35b" shape-rendering="crispEdges"/>
<rect x="524.30" y="74.86" width="10.70" height="3.27" fill="#84b453" shape-rendering="crispEdges"/>
<rect x="524.30" y="72.09" width="10.70" height="3.27" fill="#95b34c" shape-rendering="crispEdges"/>
<rect x="524.30" y="69.32" width="10.70" height="3.27" fill="#a7b346" shape-rendering="crispEdges"/>
<rect x="524.30" y="66.54" width="10.70" height="3.27" fill="#b8b240" shape-rendering="crispEdges"/>
<rect x="524.30" y="63.77" width="10.70" height="3.27" fill="#c7b13a" shape-rendering="crispEdges"/>
<rect x="524.30" y="61.00" width="10.70" height="3.27" fill="#d3ae35" shape-rendering="crispEdges"/>
<rect x="524.30" y="58.22" width="10.70" height="3.27" fill="#deab30" shape-rendering="crispEdges"/>
<rect x="524.30" y="55.45" width="10.70" height="3.27" fill="#e9a82b" shape-rendering="crispEdges"/>
<rect x="524.30" y="52.68" width="10.70" height="3.27" fill="#f1a227" shape-rendering="crispEdges"/>
<rect x="524.30" y="49.90" width="10.70" height="3.27" fill="#f49926" shape-rendering="crispEdges"/>
<rect x="524.30" y="47.13" width="10.70" height="3.27" fill="#f79024" shape-rendering="crispEdges"/>
<rect x="524.30" y="44.35" width="10.70" height="3.27" fill="#f98723" shape-rendering="crispEdges"/>
<rect x="524.30" y="41.58" width="10.70" height="3.27" fill="#fc7a21" shape-rendering="crispEdges"/>
<rect x="524.30" y="38.81" width="10.70" height="3.27" fill="#fd681f" shape-rendering="crispEdges"/>
<rect x="524.30" y="36.03" width="10.70" height="3.27" fill="#fe561d" shape-rendering="crispEdges"/>
<rect x="524.30" y="33.26" width="10.70" height="3.27" fill="#ff441c" shape-rendering="crispEdges"/>
<rect x="524.30" y="30.49" width="10.70" height="3.27" fill="#ff2f1b" shape-rendering="crispEdges"/>
<rect x="524.30" y="27.71" width="10.70" height="3.27" fill="#ff1b1a" shape-rendering="crispEdges"/>
<rect x="524.30" y="24.94" width="10.70" height="3.27" fill="#ef1818" shape-rendering="crispEdges"/>
<rect x="524.30" y="22.17" width="10.70" height="3.27" fill="#df1515" shape-rendering="crispEdges"/>
<rect x="524.30" y="19.39" width="10.70" height="3.27" fill="#c91313" shape-rendering="crispEdges"/>
<rect x="524.30" y="16.62" width="10.70" height="3.27" fill="#af1111" shape-rendering="crispEdges"/>
<rect x="524.30" y="13.85" width="10.70" height="3.27" fill="#960f0f" shape-rendering="crispEdges"/>
<rect x="524.30" y="11.07" width="10.70" height="3.27" fill="#7e0d0b" shape-rendering="crispEdges"/>
<rect x="524.30" y="8.30" width="10.70" height="3.27" fill="#660b08" shape-rendering="crispEdges"/>
<rect x="524.30" y="8.30" width="10.70" height="177.50" fill="none" stroke="#666" stroke-width="0.8"/>
<line x1="535.00" y1="185.80" x2="533.40" y2="185.80" stroke="#333" stroke-width="0.6"/>
<text x="538.20" y="188.40" font-family="Liberation Sans, Arial, sans-serif" font-size="6.5" fill="#262626">0</text>
<line x1="535.00" y1="164.02" x2="533.40" y2="164.02" stroke="#333" stroke-width="0.6"/>
<text x="538.20" y="166.62" font-family="Liberation Sans, Arial, sans-serif" font-size="6.5" fill="#262626">2</text>
<line x1="535.00" y1="142.24" x2="533.40" y2="142.24" stroke="#333" stroke-width="0.6"/>
<text x="538.20" y="144.84" font-family="Liberation Sans, Arial, sans-serif" font-size="6.5" fill="#262626">4</text>
<line x1="535.00" y1="120.46" x2="533.40" y2="120.46" stroke="#333" stroke-width="0.6"/>
<text x="538.20" y="123.06" font-family="Liberation Sans, Arial, sans-serif" font-size="6.5" fill="#262626">6</text>
<line x1="535.00" y1="98.68" x2="533.40" y2="98.68" stroke="#333" stroke-width="0.6"/>
<text x="538.20" y="101.28" font-family="Liberation Sans, Arial, sans-serif" font-size="6.5" fill="#262626">8</text>
<line x1="535.00" y1="76.90" x2="533.40" y2="76.90" stroke="#333" stroke-width="0.6"/>
<text x="538.20" y="79.50" font-family="Liberation Sans, Arial, sans-serif" font-size="6.5" fill="#262626">10</text>
<line x1="535.00" y1="55.13" x2="533.40" y2="55.13" stroke="#333" stroke-width="0.6"/>
<text x="538.20" y="57.73" font-family="Liberation Sans, Arial, sans-serif" font-size="6.5" fill="#262626">12</text>
<line x1="535.00" y1="33.35" x2="533.40" y2="33.35" stroke="#333" stroke-width="0.6"/>
<text x="538.20" y="35.95" font-family="Liberation Sans, Arial, sans-serif" font-size="6.5" fill="#262626">14</text>
<line x1="535.00" y1="11.57" x2="533.40" y2="11.57" stroke="#333" stroke-width="0.6"/>
<text x="538.20" y="14.17" font-family="Liberation Sans, Arial, sans-serif" font-size="6.5" fill="#262626">16</text>
<text x="134.50" y="224.30" text-anchor="middle" font-family="Liberation Serif, Times New Roman, serif" font-size="13.45" fill="#111">(<tspan font-weight="bold">a</tspan>) normalized energy</text>
<text x="414.50" y="224.30" text-anchor="middle" font-family="Liberation Serif, Times New Roman, serif" font-size="13.45" fill="#111">(<tspan font-weight="bold">b</tspan>) normalized frequency</text>
<text x="274.00" y="457.30" text-anchor="middle" font-family="Liberation Serif, Times New Roman, serif" font-size="13.45" fill="#111">(<tspan font-weight="bold">c</tspan>) Normalized energy ratio</text>
<line x1="83.80" y1="229.30" x2="83.80" y2="407.80" stroke="#444" stroke-width="0.6"/>
<line x1="415.20" y1="229.30" x2="415.20" y2="407.80" stroke="#666" stroke-width="1.1"/>
<path d="M83.80,407.80 L83.80,229.30 L84.15,229.30 L84.50,229.30 L84.86,229.30 L85.21,229.30 L85.56,229.30 L85.91,229.30 L86.27,229.30 L86.62,229.30 L86.97,230.92 L87.32,235.19 L87.68,239.64 L88.03,244.12 L88.38,248.51 L88.73,252.66 L89.09,256.44 L89.44,259.70 L89.79,262.45 L90.14,264.88 L90.49,267.11 L90.85,269.29 L91.20,271.53 L91.55,273.89 L91.90,276.26 L92.26,278.63 L92.61,281.00 L92.96,283.38 L93.31,285.82 L93.67,288.30 L94.02,290.71 L94.37,292.96 L94.72,295.02 L95.07,297.04 L95.43,298.99 L95.78,300.83 L96.13,302.50 L96.48,303.95 L96.84,305.17 L97.19,306.35 L97.54,307.53 L97.89,308.65 L98.25,309.68 L98.60,310.58 L98.95,311.30 L99.30,311.82 L99.66,312.08 L100.01,312.07 L100.36,311.89 L100.71,311.57 L101.06,311.10 L101.42,310.51 L101.77,309.80 L102.12,308.99 L102.47,308.08 L102.83,307.10 L103.18,306.04 L103.53,304.93 L103.88,303.50 L104.24,301.35 L104.59,298.74 L104.94,295.96 L105.29,293.27 L105.65,290.43 L106.00,287.44 L106.35,284.52 L106.70,281.87 L107.05,279.36 L107.41,276.98 L107.76,274.80 L108.11,272.88 L108.46,271.16 L108.82,269.58 L109.17,268.05 L109.52,266.50 L109.87,264.85 L110.23,262.94 L110.58,261.07 L110.93,259.70 L111.28,258.76 L111.63,257.89 L111.99,257.14 L112.34,256.58 L112.69,256.26 L113.04,256.22 L113.40,256.45 L113.75,256.90 L114.10,257.53 L114.45,258.30 L114.81,259.16 L115.16,260.15 L115.51,261.83 L115.86,263.80 L116.22,265.50 L116.57,266.85 L116.92,268.08 L117.27,269.28 L117.62,270.56 L117.98,272.00 L118.33,273.68 L118.68,275.54 L119.03,277.54 L119.39,279.60 L119.74,281.68 L120.09,283.72 L120.44,285.83 L120.80,287.98 L121.15,290.13 L121.50,292.22 L121.85,294.18 L122.21,296.06 L122.56,297.88 L122.91,299.65 L123.26,301.37 L123.61,303.05 L123.97,304.70 L124.32,306.38 L124.67,308.11 L125.02,309.83 L125.38,311.48 L125.73,313.01 L126.08,314.34 L126.43,315.42 L126.79,316.31 L127.14,317.17 L127.49,317.87 L127.84,318.26 L128.19,318.24 L128.55,317.90 L128.90,317.30 L129.25,316.52 L129.60,315.60 L129.96,314.03 L130.31,311.53 L130.66,308.50 L131.01,305.32 L131.37,302.02 L131.72,298.28 L132.07,294.51 L132.42,290.96 L132.78,287.43 L133.13,284.12 L133.48,281.20 L133.83,278.60 L134.18,276.10 L134.54,273.50 L134.89,270.74 L135.24,267.93 L135.59,265.05 L135.95,262.11 L136.30,259.08 L136.65,255.81 L137.00,252.46 L137.36,249.36 L137.71,246.65 L138.06,244.10 L138.41,241.72 L138.77,239.52 L139.12,237.50 L139.47,235.37 L139.82,233.20 L140.17,231.29 L140.53,229.92 L140.88,229.40 L141.23,229.75 L141.58,230.71 L141.94,232.13 L142.29,233.84 L142.64,235.69 L142.99,237.54 L143.35,239.45 L143.70,241.71 L144.05,244.20 L144.40,246.77 L144.75,249.30 L145.11,251.78 L145.46,254.31 L145.81,256.94 L146.16,259.70 L146.52,262.83 L146.87,266.21 L147.22,269.39 L147.57,271.95 L147.93,274.10 L148.28,276.02 L148.63,277.81 L148.98,279.56 L149.34,281.36 L149.69,283.30 L150.04,285.40 L150.39,287.57 L150.74,289.75 L151.10,291.85 L151.45,293.80 L151.80,295.67 L152.15,297.54 L152.51,299.36 L152.86,301.07 L153.21,302.64 L153.56,304.00 L153.92,305.14 L154.27,306.26 L154.62,307.36 L154.97,308.37 L155.33,309.22 L155.68,309.85 L156.03,310.17 L156.38,310.16 L156.73,309.93 L157.09,309.51 L157.44,308.93 L157.79,308.23 L158.14,307.42 L158.50,306.55 L158.85,305.63 L159.20,304.70 L159.55,303.62 L159.91,302.29 L160.26,300.74 L160.61,299.03 L160.96,297.21 L161.31,295.32 L161.67,293.41 L162.02,291.33 L162.37,289.06 L162.72,286.69 L163.08,284.30 L163.43,281.96 L163.78,279.55 L164.13,277.14 L164.49,274.85 L164.84,272.76 L165.19,270.73 L165.54,268.79 L165.90,267.01 L166.25,265.47 L166.60,264.11 L166.95,262.71 L167.30,261.33 L167.66,260.03 L168.01,258.86 L168.36,257.89 L168.71,257.18 L169.07,256.77 L169.42,256.73 L169.77,257.02 L170.12,257.58 L170.48,258.38 L170.83,259.37 L171.18,260.49 L171.53,261.71 L171.89,262.97 L172.24,264.23 L172.59,265.44 L172.94,266.79 L173.29,268.31 L173.65,269.95 L174.00,271.65 L174.35,273.34 L174.70,274.99 L175.06,276.65 L175.41,278.33 L175.76,280.05 L176.11,281.82 L176.47,283.64 L176.82,285.53 L177.17,287.49 L177.52,289.48 L177.87,291.46 L178.23,293.42 L178.58,295.33 L178.93,297.25 L179.28,299.15 L179.64,301.03 L179.99,302.89 L180.34,304.70 L180.69,306.56 L181.05,308.52 L181.40,310.45 L181.75,312.28 L182.10,313.89 L182.46,315.19 L182.81,316.17 L183.16,317.09 L183.51,317.84 L183.86,318.26 L184.22,318.24 L184.57,317.90 L184.92,317.31 L185.27,316.53 L185.63,315.60 L185.98,313.93 L186.33,311.23 L186.68,307.98 L187.04,304.70 L187.39,301.20 L187.74,297.36 L188.09,293.80 L188.45,290.67 L188.80,287.73 L189.15,284.97 L189.50,282.40 L189.85,280.11 L190.21,277.98 L190.56,275.84 L190.91,273.50 L191.26,270.88 L191.62,268.08 L191.97,265.15 L192.32,262.13 L192.67,259.08 L193.03,255.81 L193.38,252.46 L193.73,249.36 L194.08,246.65 L194.43,244.10 L194.79,241.72 L195.14,239.52 L195.49,237.50 L195.84,235.37 L196.20,233.20 L196.55,231.29 L196.90,229.92 L197.25,229.40 L197.61,229.75 L197.96,230.71 L198.31,232.13 L198.66,233.84 L199.02,235.69 L199.37,237.54 L199.72,239.45 L200.07,241.71 L200.42,244.20 L200.78,246.77 L201.13,249.30 L201.48,251.80 L201.83,254.35 L202.19,256.98 L202.54,259.70 L202.89,262.63 L203.24,265.72 L203.60,268.75 L203.95,271.53 L204.30,274.05 L204.65,276.43 L205.01,278.73 L205.36,281.03 L205.71,283.38 L206.06,285.82 L206.41,288.30 L206.77,290.71 L207.12,292.96 L207.47,295.02 L207.82,297.04 L208.18,298.99 L208.53,300.83 L208.88,302.50 L209.23,303.95 L209.59,305.17 L209.94,306.35 L210.29,307.53 L210.64,308.65 L210.99,309.68 L211.35,310.58 L211.70,311.30 L212.05,311.82 L212.40,312.08 L212.76,312.07 L213.11,311.89 L213.46,311.57 L213.81,311.10 L214.17,310.51 L214.52,309.80 L214.87,308.99 L215.22,308.08 L215.58,307.10 L215.93,306.04 L216.28,304.93 L216.63,303.50 L216.98,301.35 L217.34,298.74 L217.69,295.96 L218.04,293.27 L218.39,290.43 L218.75,287.44 L219.10,284.52 L219.45,281.87 L219.80,279.36 L220.16,276.98 L220.51,274.80 L220.86,272.88 L221.21,271.16 L221.57,269.58 L221.92,268.05 L222.27,266.50 L222.62,264.85 L222.97,262.94 L223.33,261.07 L223.68,259.70 L224.03,258.76 L224.38,257.89 L224.74,257.14 L225.09,256.58 L225.44,256.26 L225.79,256.22 L226.15,256.45 L226.50,256.90 L226.85,257.53 L227.20,258.30 L227.55,259.16 L227.91,260.15 L228.26,261.83 L228.61,263.80 L228.96,265.50 L229.32,266.85 L229.67,268.08 L230.02,269.28 L230.37,270.56 L230.73,272.00 L231.08,273.68 L231.43,275.54 L231.78,277.54 L232.14,279.60 L232.49,281.68 L232.84,283.72 L233.19,285.83 L233.54,287.98 L233.90,290.13 L234.25,292.22 L234.60,294.18 L234.95,296.06 L235.31,297.88 L235.66,299.65 L236.01,301.37 L236.36,303.05 L236.72,304.70 L237.07,306.38 L237.42,308.11 L237.77,309.83 L238.13,311.48 L238.48,313.01 L238.83,314.34 L239.18,315.42 L239.53,316.31 L239.89,317.17 L240.24,317.87 L240.59,318.26 L240.94,318.24 L241.30,317.90 L241.65,317.30 L242.00,316.52 L242.35,315.60 L242.71,314.03 L243.06,311.53 L243.41,308.50 L243.76,305.32 L244.11,302.02 L244.47,298.28 L244.82,294.51 L245.17,290.96 L245.52,287.43 L245.88,284.12 L246.23,281.20 L246.58,278.60 L246.93,276.10 L247.29,273.50 L247.64,270.74 L247.99,267.93 L248.34,265.05 L248.70,262.11 L249.05,259.08 L249.40,255.81 L249.75,252.46 L250.10,249.36 L250.46,246.65 L250.81,244.10 L251.16,241.72 L251.51,239.52 L251.87,237.50 L252.22,235.37 L252.57,233.20 L252.92,231.29 L253.28,229.92 L253.63,229.40 L253.98,229.75 L254.33,230.71 L254.69,232.13 L255.04,233.84 L255.39,235.69 L255.74,237.54 L256.09,239.45 L256.45,241.71 L256.80,244.20 L257.15,246.77 L257.50,249.30 L257.86,251.78 L258.21,254.31 L258.56,256.94 L258.91,259.70 L259.27,262.83 L259.62,266.21 L259.97,269.39 L260.32,271.95 L260.67,274.10 L261.03,276.02 L261.38,277.81 L261.73,279.56 L262.08,281.36 L262.44,283.30 L262.79,285.40 L263.14,287.57 L263.49,289.75 L263.85,291.85 L264.20,293.80 L264.55,295.67 L264.90,297.54 L265.26,299.36 L265.61,301.07 L265.96,302.64 L266.31,304.00 L266.66,305.14 L267.02,306.26 L267.37,307.36 L267.72,308.37 L268.07,309.22 L268.43,309.85 L268.78,310.17 L269.13,310.16 L269.48,309.93 L269.84,309.51 L270.19,308.93 L270.54,308.23 L270.89,307.42 L271.25,306.55 L271.60,305.63 L271.95,304.70 L272.30,303.62 L272.65,302.29 L273.01,300.74 L273.36,299.03 L273.71,297.21 L274.06,295.32 L274.42,293.41 L274.77,291.33 L275.12,289.06 L275.47,286.69 L275.83,284.30 L276.18,281.96 L276.53,279.55 L276.88,277.14 L277.23,274.85 L277.59,272.76 L277.94,270.73 L278.29,268.79 L278.64,267.01 L279.00,265.47 L279.35,264.11 L279.70,262.71 L280.05,261.33 L280.41,260.03 L280.76,258.86 L281.11,257.89 L281.46,257.18 L281.82,256.77 L282.17,256.73 L282.52,257.02 L282.87,257.58 L283.22,258.38 L283.58,259.37 L283.93,260.49 L284.28,261.71 L284.63,262.97 L284.99,264.23 L285.34,265.44 L285.69,266.79 L286.04,268.31 L286.40,269.95 L286.75,271.65 L287.10,273.34 L287.45,274.99 L287.81,276.65 L288.16,278.33 L288.51,280.05 L288.86,281.82 L289.21,283.64 L289.57,285.53 L289.92,287.49 L290.27,289.48 L290.62,291.46 L290.98,293.42 L291.33,295.33 L291.68,297.25 L292.03,299.15 L292.39,301.03 L292.74,302.89 L293.09,304.70 L293.44,306.56 L293.79,308.52 L294.15,310.45 L294.50,312.28 L294.85,313.89 L295.20,315.19 L295.56,316.17 L295.91,317.09 L296.26,317.84 L296.61,318.26 L296.97,318.22 L297.32,317.79 L297.67,317.12 L298.02,316.34 L298.38,315.60 L298.73,314.95 L299.08,314.30 L299.43,313.56 L299.78,312.65 L300.14,311.47 L300.49,309.67 L300.84,307.33 L301.19,304.65 L301.55,301.80 L301.90,298.45 L302.25,294.58 L302.60,290.90 L302.96,287.50 L303.31,284.26 L303.66,281.50 L304.01,279.31 L304.37,277.45 L304.72,275.72 L305.07,273.91 L305.42,271.81 L305.77,269.28 L306.13,266.60 L306.48,264.10 L306.83,262.11 L307.18,260.65 L307.54,259.23 L307.89,257.86 L308.24,256.57 L308.59,255.39 L308.95,254.34 L309.30,253.45 L309.65,252.75 L310.00,252.26 L310.35,252.02 L310.71,252.06 L311.06,252.38 L311.41,252.96 L311.76,253.76 L312.12,254.75 L312.47,255.89 L312.82,257.15 L313.17,258.48 L313.53,259.86 L313.88,261.25 L314.23,262.69 L314.58,264.44 L314.94,266.46 L315.29,268.64 L315.64,270.90 L315.99,273.16 L316.34,275.64 L316.70,278.19 L317.05,280.41 L317.40,282.36 L317.75,284.18 L318.11,285.90 L318.46,287.53 L318.81,289.09 L319.16,290.60 L319.52,292.07 L319.87,293.51 L320.22,294.90 L320.57,296.25 L320.93,297.55 L321.28,298.80 L321.63,300.00 L321.98,301.14 L322.33,302.24 L322.69,303.42 L323.04,304.65 L323.39,305.87 L323.74,307.02 L324.10,308.04 L324.45,308.86 L324.80,309.44 L325.15,309.69 L325.51,309.62 L325.86,309.29 L326.21,308.76 L326.56,308.05 L326.91,307.18 L327.27,306.21 L327.62,305.15 L327.97,304.04 L328.32,302.91 L328.68,301.80 L329.03,300.59 L329.38,299.17 L329.73,297.59 L330.09,295.89 L330.44,294.12 L330.79,292.32 L331.14,290.55 L331.50,288.82 L331.85,287.08 L332.20,285.25 L332.55,283.25 L332.90,280.99 L333.26,278.19 L333.61,274.61 L333.96,271.60 L334.31,268.89 L334.67,266.36 L335.02,264.14 L335.37,262.36 L335.72,261.04 L336.08,259.79 L336.43,258.59 L336.78,257.47 L337.13,256.44 L337.49,255.53 L337.84,254.75 L338.19,254.13 L338.54,253.68 L338.89,253.44 L339.25,253.42 L339.60,253.68 L339.95,254.18 L340.30,254.89 L340.66,255.76 L341.01,256.74 L341.36,257.81 L341.71,258.91 L342.07,259.99 L342.42,261.03 L342.77,261.99 L343.12,262.99 L343.47,264.09 L343.83,265.26 L344.18,266.46 L344.53,267.64 L344.88,268.78 L345.24,269.83 L345.59,270.76 L345.94,271.53 L346.29,272.10 L346.65,272.60 L347.00,273.09 L347.35,273.56 L347.70,274.02 L348.06,274.44 L348.41,274.84 L348.76,275.19 L349.11,275.51 L349.46,275.78 L349.82,276.00 L350.17,276.16 L350.52,276.27 L350.87,276.30 L351.23,276.27 L351.58,276.18 L351.93,276.04 L352.28,275.85 L352.64,275.62 L352.99,275.35 L353.34,275.04 L353.69,274.70 L354.05,274.34 L354.40,273.95 L354.75,273.55 L355.10,273.13 L355.45,272.70 L355.81,272.19 L356.16,271.55 L356.51,270.79 L356.86,269.94 L357.22,269.02 L357.57,268.05 L357.92,267.06 L358.27,266.07 L358.63,265.10 L358.98,264.08 L359.33,262.96 L359.68,261.77 L360.03,260.56 L360.39,259.34 L360.74,258.17 L361.09,257.09 L361.44,256.12 L361.80,255.30 L362.15,254.56 L362.50,253.80 L362.85,253.06 L363.21,252.36 L363.56,251.73 L363.91,251.19 L364.26,250.77 L364.62,250.50 L364.97,250.40 L365.32,250.54 L365.67,250.95 L366.02,251.58 L366.38,252.39 L366.73,253.35 L367.08,254.41 L367.43,255.54 L367.79,256.70 L368.14,257.84 L368.49,258.95 L368.84,260.23 L369.20,261.68 L369.55,263.26 L369.90,264.92 L370.25,266.60 L370.61,268.27 L370.96,269.88 L371.31,271.37 L371.66,272.70 L372.01,273.94 L372.37,275.16 L372.72,276.33 L373.07,277.41 L373.42,278.37 L373.78,279.16 L374.13,279.81 L374.48,280.37 L374.83,280.86 L375.19,281.31 L375.54,281.73 L375.89,282.13 L376.24,282.54 L376.59,282.96 L376.95,283.41 L377.30,283.90 L377.65,284.40 L378.00,284.92 L378.36,285.44 L378.71,285.96 L379.06,286.49 L379.41,287.02 L379.77,287.55 L380.12,288.08 L380.47,288.60 L380.82,289.13 L381.18,289.65 L381.53,290.17 L381.88,290.69 L382.23,291.24 L382.58,291.89 L382.94,292.59 L383.29,293.27 L383.64,293.89 L383.99,294.37 L384.35,294.65 L384.70,294.68 L385.05,294.49 L385.40,294.12 L385.76,293.58 L386.11,292.91 L386.46,292.12 L386.81,291.26 L387.17,290.11 L387.52,288.13 L387.87,286.11 L388.22,284.82 L388.57,283.89 L388.93,282.72 L389.28,281.04 L389.63,278.98 L389.98,276.72 L390.34,274.44 L390.69,272.28 L391.04,270.03 L391.39,267.68 L391.75,265.41 L392.10,263.39 L392.45,261.80 L392.80,260.48 L393.15,259.18 L393.51,257.93 L393.86,256.78 L394.21,255.76 L394.56,254.92 L394.92,254.28 L395.27,253.90 L395.62,253.81 L395.97,254.01 L396.33,254.46 L396.68,255.14 L397.03,256.01 L397.38,257.02 L397.74,258.14 L398.09,259.33 L398.44,260.57 L398.79,261.80 L399.14,263.23 L399.50,264.99 L399.85,266.97 L400.20,269.05 L400.55,271.12 L400.91,273.08 L401.26,275.04 L401.61,277.03 L401.96,278.98 L402.32,280.81 L402.67,282.48 L403.02,284.03 L403.37,285.49 L403.73,286.91 L404.08,288.31 L404.43,289.73 L404.78,291.20 L405.13,292.78 L405.49,294.44 L405.84,296.11 L406.19,297.74 L406.54,299.28 L406.90,300.65 L407.25,301.80 L407.60,302.84 L407.95,303.88 L408.31,304.91 L408.66,305.91 L409.01,306.84 L409.36,307.68 L409.71,308.41 L410.07,309.00 L410.42,309.42 L410.77,309.66 L411.12,309.70 L411.48,309.66 L411.83,309.58 L412.18,309.45 L412.53,309.25 L412.89,308.98 L413.24,308.63 L413.59,308.18 L413.94,307.64 L414.30,306.98 L414.65,306.20 L415.00,305.30 L415.00,407.80 Z" fill="#f5c469"/>
<path d="M83.80,407.80 L83.80,315.50 L84.15,315.50 L84.50,315.51 L84.86,315.53 L85.21,315.55 L85.56,315.58 L85.91,315.62 L86.27,315.66 L86.62,315.70 L86.97,315.75 L87.32,315.80 L87.68,315.86 L88.03,315.91 L88.38,315.98 L88.73,316.04 L89.09,316.14 L89.44,316.28 L89.79,316.43 L90.14,316.61 L90.49,316.80 L90.85,317.01 L91.20,317.22 L91.55,317.44 L91.90,317.65 L92.26,317.86 L92.61,318.05 L92.96,318.24 L93.31,318.41 L93.67,318.59 L94.02,318.77 L94.37,318.96 L94.72,319.14 L95.07,319.33 L95.43,319.51 L95.78,319.69 L96.13,319.87 L96.48,320.04 L96.84,320.21 L97.19,320.38 L97.54,320.54 L97.89,320.69 L98.25,320.84 L98.60,320.98 L98.95,321.12 L99.30,321.26 L99.66,321.40 L100.01,321.53 L100.36,321.66 L100.71,321.79 L101.06,321.92 L101.42,322.04 L101.77,322.16 L102.12,322.28 L102.47,322.39 L102.83,322.50 L103.18,322.61 L103.53,322.72 L103.88,322.82 L104.24,322.92 L104.59,323.01 L104.94,323.10 L105.29,323.19 L105.65,323.27 L106.00,323.35 L106.35,323.43 L106.70,323.51 L107.05,323.59 L107.41,323.66 L107.76,323.73 L108.11,323.80 L108.46,323.87 L108.82,323.94 L109.17,324.01 L109.52,324.07 L109.87,324.14 L110.23,324.20 L110.58,324.26 L110.93,324.33 L111.28,324.39 L111.63,324.45 L111.99,324.51 L112.34,324.57 L112.69,324.64 L113.04,324.70 L113.40,324.76 L113.75,324.82 L114.10,324.88 L114.45,324.95 L114.81,325.01 L115.16,325.08 L115.51,325.14 L115.86,325.21 L116.22,325.27 L116.57,325.34 L116.92,325.40 L117.27,325.46 L117.62,325.53 L117.98,325.59 L118.33,325.66 L118.68,325.72 L119.03,325.78 L119.39,325.85 L119.74,325.91 L120.09,325.97 L120.44,326.03 L120.80,326.09 L121.15,326.16 L121.50,326.22 L121.85,326.28 L122.21,326.34 L122.56,326.40 L122.91,326.46 L123.26,326.52 L123.61,326.58 L123.97,326.64 L124.32,326.69 L124.67,326.75 L125.02,326.81 L125.38,326.87 L125.73,326.92 L126.08,326.99 L126.43,327.06 L126.79,327.13 L127.14,327.20 L127.49,327.26 L127.84,327.32 L128.19,327.36 L128.55,327.39 L128.90,327.40 L129.25,327.39 L129.60,327.35 L129.96,327.28 L130.31,327.19 L130.66,327.08 L131.01,326.94 L131.37,326.79 L131.72,326.62 L132.07,326.44 L132.42,326.24 L132.78,326.02 L133.13,325.80 L133.48,325.48 L133.83,325.00 L134.18,324.39 L134.54,323.70 L134.89,322.95 L135.24,322.18 L135.59,321.43 L135.95,320.73 L136.30,320.06 L136.65,319.33 L137.00,318.57 L137.36,317.79 L137.71,317.04 L138.06,316.33 L138.41,315.69 L138.77,315.14 L139.12,314.73 L139.47,314.43 L139.82,314.16 L140.17,313.89 L140.53,313.64 L140.88,313.41 L141.23,313.18 L141.58,312.98 L141.94,312.80 L142.29,312.63 L142.64,312.49 L142.99,312.38 L143.35,312.29 L143.70,312.23 L144.05,312.20 L144.40,312.21 L144.75,312.26 L145.11,312.36 L145.46,312.49 L145.81,312.65 L146.16,312.85 L146.52,313.06 L146.87,313.30 L147.22,313.54 L147.57,313.80 L147.93,314.06 L148.28,314.32 L148.63,314.57 L148.98,314.81 L149.34,315.04 L149.69,315.29 L150.04,315.56 L150.39,315.85 L150.74,316.14 L151.10,316.44 L151.45,316.74 L151.80,317.04 L152.15,317.33 L152.51,317.60 L152.86,317.85 L153.21,318.08 L153.56,318.28 L153.92,318.47 L154.27,318.65 L154.62,318.83 L154.97,319.00 L155.33,319.17 L155.68,319.33 L156.03,319.49 L156.38,319.64 L156.73,319.79 L157.09,319.94 L157.44,320.08 L157.79,320.22 L158.14,320.35 L158.50,320.49 L158.85,320.62 L159.20,320.75 L159.55,320.87 L159.91,321.00 L160.26,321.13 L160.61,321.25 L160.96,321.38 L161.31,321.50 L161.67,321.62 L162.02,321.75 L162.37,321.87 L162.72,321.99 L163.08,322.10 L163.43,322.22 L163.78,322.33 L164.13,322.45 L164.49,322.56 L164.84,322.67 L165.19,322.78 L165.54,322.89 L165.90,322.99 L166.25,323.10 L166.60,323.20 L166.95,323.31 L167.30,323.41 L167.66,323.51 L168.01,323.61 L168.36,323.72 L168.71,323.82 L169.07,323.92 L169.42,324.02 L169.77,324.11 L170.12,324.21 L170.48,324.31 L170.83,324.41 L171.18,324.51 L171.53,324.60 L171.89,324.70 L172.24,324.80 L172.59,324.89 L172.94,324.99 L173.29,325.09 L173.65,325.19 L174.00,325.28 L174.35,325.38 L174.70,325.47 L175.06,325.57 L175.41,325.66 L175.76,325.76 L176.11,325.85 L176.47,325.94 L176.82,326.04 L177.17,326.13 L177.52,326.22 L177.87,326.31 L178.23,326.39 L178.58,326.48 L178.93,326.57 L179.28,326.65 L179.64,326.73 L179.99,326.82 L180.34,326.90 L180.69,326.97 L181.05,327.05 L181.40,327.13 L181.75,327.20 L182.10,327.28 L182.46,327.36 L182.81,327.45 L183.16,327.53 L183.51,327.61 L183.86,327.68 L184.22,327.74 L184.57,327.78 L184.92,327.80 L185.27,327.79 L185.63,327.75 L185.98,327.68 L186.33,327.57 L186.68,327.44 L187.04,327.28 L187.39,327.11 L187.74,326.91 L188.09,326.70 L188.45,326.49 L188.80,326.26 L189.15,326.03 L189.50,325.80 L189.85,325.54 L190.21,325.24 L190.56,324.89 L190.91,324.50 L191.26,324.09 L191.62,323.65 L191.97,323.20 L192.32,322.73 L192.67,322.26 L193.03,321.80 L193.38,321.34 L193.73,320.90 L194.08,320.45 L194.43,319.96 L194.79,319.47 L195.14,319.00 L195.49,318.57 L195.84,318.20 L196.20,317.86 L196.55,317.52 L196.90,317.19 L197.25,316.87 L197.61,316.60 L197.96,316.39 L198.31,316.25 L198.66,316.20 L199.02,316.20 L199.37,316.21 L199.72,316.22 L200.07,316.24 L200.42,316.25 L200.78,316.28 L201.13,316.30 L201.48,316.33 L201.83,316.37 L202.19,316.40 L202.54,316.47 L202.89,316.58 L203.24,316.74 L203.60,316.93 L203.95,317.15 L204.30,317.38 L204.65,317.61 L205.01,317.84 L205.36,318.05 L205.71,318.24 L206.06,318.42 L206.41,318.60 L206.77,318.78 L207.12,318.97 L207.47,319.15 L207.82,319.33 L208.18,319.51 L208.53,319.69 L208.88,319.87 L209.23,320.05 L209.59,320.22 L209.94,320.38 L210.29,320.54 L210.64,320.70 L210.99,320.84 L211.35,320.98 L211.70,321.12 L212.05,321.26 L212.40,321.40 L212.76,321.53 L213.11,321.66 L213.46,321.79 L213.81,321.92 L214.17,322.04 L214.52,322.16 L214.87,322.28 L215.22,322.39 L215.58,322.50 L215.93,322.61 L216.28,322.72 L216.63,322.82 L216.98,322.92 L217.34,323.01 L217.69,323.10 L218.04,323.19 L218.39,323.27 L218.75,323.35 L219.10,323.43 L219.45,323.51 L219.80,323.59 L220.16,323.66 L220.51,323.73 L220.86,323.80 L221.21,323.87 L221.57,323.94 L221.92,324.01 L222.27,324.07 L222.62,324.14 L222.97,324.20 L223.33,324.26 L223.68,324.33 L224.03,324.39 L224.38,324.45 L224.74,324.51 L225.09,324.57 L225.44,324.64 L225.79,324.70 L226.15,324.76 L226.50,324.82 L226.85,324.88 L227.20,324.95 L227.55,325.01 L227.91,325.08 L228.26,325.14 L228.61,325.21 L228.96,325.27 L229.32,325.34 L229.67,325.40 L230.02,325.46 L230.37,325.53 L230.73,325.59 L231.08,325.66 L231.43,325.72 L231.78,325.78 L232.14,325.85 L232.49,325.91 L232.84,325.97 L233.19,326.03 L233.54,326.09 L233.90,326.16 L234.25,326.22 L234.60,326.28 L234.95,326.34 L235.31,326.40 L235.66,326.46 L236.01,326.52 L236.36,326.58 L236.72,326.64 L237.07,326.69 L237.42,326.75 L237.77,326.81 L238.13,326.87 L238.48,326.92 L238.83,326.99 L239.18,327.06 L239.53,327.13 L239.89,327.20 L240.24,327.26 L240.59,327.32 L240.94,327.36 L241.30,327.39 L241.65,327.40 L242.00,327.39 L242.35,327.35 L242.71,327.28 L243.06,327.19 L243.41,327.08 L243.76,326.94 L244.11,326.79 L244.47,326.62 L244.82,326.44 L245.17,326.24 L245.52,326.02 L245.88,325.80 L246.23,325.48 L246.58,325.00 L246.93,324.39 L247.29,323.70 L247.64,322.95 L247.99,322.18 L248.34,321.43 L248.70,320.73 L249.05,320.06 L249.40,319.33 L249.75,318.57 L250.10,317.79 L250.46,317.04 L250.81,316.33 L251.16,315.69 L251.51,315.14 L251.87,314.73 L252.22,314.43 L252.57,314.16 L252.92,313.89 L253.28,313.64 L253.63,313.41 L253.98,313.18 L254.33,312.98 L254.69,312.80 L255.04,312.63 L255.39,312.49 L255.74,312.38 L256.09,312.29 L256.45,312.23 L256.80,312.20 L257.15,312.21 L257.50,312.26 L257.86,312.36 L258.21,312.49 L258.56,312.65 L258.91,312.85 L259.27,313.06 L259.62,313.30 L259.97,313.54 L260.32,313.80 L260.67,314.06 L261.03,314.32 L261.38,314.57 L261.73,314.81 L262.08,315.04 L262.44,315.29 L262.79,315.56 L263.14,315.85 L263.49,316.14 L263.85,316.44 L264.20,316.74 L264.55,317.04 L264.90,317.33 L265.26,317.60 L265.61,317.85 L265.96,318.08 L266.31,318.28 L266.66,318.47 L267.02,318.65 L267.37,318.83 L267.72,319.00 L268.07,319.17 L268.43,319.33 L268.78,319.49 L269.13,319.64 L269.48,319.79 L269.84,319.94 L270.19,320.08 L270.54,320.22 L270.89,320.35 L271.25,320.49 L271.60,320.62 L271.95,320.75 L272.30,320.87 L272.65,321.00 L273.01,321.13 L273.36,321.25 L273.71,321.38 L274.06,321.50 L274.42,321.62 L274.77,321.75 L275.12,321.87 L275.47,321.99 L275.83,322.10 L276.18,322.22 L276.53,322.33 L276.88,322.45 L277.23,322.56 L277.59,322.67 L277.94,322.78 L278.29,322.89 L278.64,322.99 L279.00,323.10 L279.35,323.20 L279.70,323.31 L280.05,323.41 L280.41,323.51 L280.76,323.61 L281.11,323.72 L281.46,323.82 L281.82,323.92 L282.17,324.02 L282.52,324.11 L282.87,324.21 L283.22,324.31 L283.58,324.41 L283.93,324.51 L284.28,324.60 L284.63,324.70 L284.99,324.80 L285.34,324.89 L285.69,324.98 L286.04,325.06 L286.40,325.14 L286.75,325.23 L287.10,325.31 L287.45,325.38 L287.81,325.46 L288.16,325.54 L288.51,325.61 L288.86,325.69 L289.21,325.77 L289.57,325.84 L289.92,325.92 L290.27,326.00 L290.62,326.08 L290.98,326.17 L291.33,326.25 L291.68,326.34 L292.03,326.43 L292.39,326.53 L292.74,326.63 L293.09,326.73 L293.44,326.84 L293.79,326.96 L294.15,327.08 L294.50,327.20 L294.85,327.38 L295.20,327.60 L295.56,327.82 L295.91,327.97 L296.26,328.00 L296.61,327.98 L296.97,327.94 L297.32,327.89 L297.67,327.83 L298.02,327.75 L298.38,327.65 L298.73,327.50 L299.08,327.32 L299.43,327.11 L299.78,326.87 L300.14,326.61 L300.49,326.33 L300.84,326.02 L301.19,325.71 L301.55,325.38 L301.90,325.04 L302.25,324.70 L302.60,324.31 L302.96,323.84 L303.31,323.30 L303.66,322.71 L304.01,322.08 L304.37,321.42 L304.72,320.74 L305.07,320.07 L305.42,319.41 L305.77,318.78 L306.13,318.19 L306.48,317.65 L306.83,317.18 L307.18,316.77 L307.54,316.34 L307.89,315.91 L308.24,315.47 L308.59,315.04 L308.95,314.62 L309.30,314.20 L309.65,313.81 L310.00,313.44 L310.35,313.09 L310.71,312.78 L311.06,312.50 L311.41,312.26 L311.76,312.07 L312.12,311.92 L312.47,311.83 L312.82,311.80 L313.17,311.82 L313.53,311.87 L313.88,311.95 L314.23,312.05 L314.58,312.18 L314.94,312.32 L315.29,312.49 L315.64,312.66 L315.99,312.85 L316.34,313.04 L316.70,313.23 L317.05,313.43 L317.40,313.62 L317.75,313.80 L318.11,313.99 L318.46,314.21 L318.81,314.45 L319.16,314.71 L319.52,314.98 L319.87,315.26 L320.22,315.55 L320.57,315.83 L320.93,316.12 L321.28,316.39 L321.63,316.65 L321.98,316.90 L322.33,317.13 L322.69,317.33 L323.04,317.51 L323.39,317.66 L323.74,317.80 L324.10,317.94 L324.45,318.08 L324.80,318.22 L325.15,318.34 L325.51,318.45 L325.86,318.54 L326.21,318.62 L326.56,318.67 L326.91,318.70 L327.27,318.69 L327.62,318.65 L327.97,318.58 L328.32,318.49 L328.68,318.37 L329.03,318.23 L329.38,318.08 L329.73,317.92 L330.09,317.76 L330.44,317.60 L330.79,317.42 L331.14,317.20 L331.50,316.95 L331.85,316.67 L332.20,316.38 L332.55,316.07 L332.90,315.77 L333.26,315.46 L333.61,315.17 L333.96,314.90 L334.31,314.64 L334.67,314.40 L335.02,314.16 L335.37,313.93 L335.72,313.70 L336.08,313.47 L336.43,313.24 L336.78,313.01 L337.13,312.78 L337.49,312.53 L337.84,312.28 L338.19,312.02 L338.54,311.74 L338.89,311.44 L339.25,311.13 L339.60,310.80 L339.95,310.45 L340.30,310.08 L340.66,309.70 L341.01,309.29 L341.36,308.85 L341.71,308.39 L342.07,307.89 L342.42,307.36 L342.77,306.80 L343.12,306.20 L343.47,305.51 L343.83,304.68 L344.18,303.76 L344.53,302.76 L344.88,301.71 L345.24,300.64 L345.59,299.58 L345.94,298.55 L346.29,297.58 L346.65,296.66 L347.00,295.70 L347.35,294.72 L347.70,293.75 L348.06,292.80 L348.41,291.89 L348.76,291.04 L349.11,290.29 L349.46,289.63 L349.82,289.09 L350.17,288.58 L350.52,288.07 L350.87,287.57 L351.23,287.08 L351.58,286.61 L351.93,286.17 L352.28,285.77 L352.64,285.40 L352.99,285.08 L353.34,284.80 L353.69,284.58 L354.05,284.42 L354.40,284.32 L354.75,284.30 L355.10,284.38 L355.45,284.57 L355.81,284.85 L356.16,285.22 L356.51,285.66 L356.86,286.17 L357.22,286.73 L357.57,287.34 L357.92,287.97 L358.27,288.63 L358.63,289.30 L358.98,290.11 L359.33,291.15 L359.68,292.38 L360.03,293.74 L360.39,295.18 L360.74,296.65 L361.09,298.09 L361.44,299.46 L361.80,300.70 L362.15,301.87 L362.50,303.07 L362.85,304.26 L363.21,305.44 L363.56,306.57 L363.91,307.65 L364.26,308.66 L364.62,309.56 L364.97,310.36 L365.32,311.05 L365.67,311.71 L366.02,312.32 L366.38,312.91 L366.73,313.45 L367.08,313.95 L367.43,314.41 L367.79,314.83 L368.14,315.20 L368.49,315.53 L368.84,315.82 L369.20,316.10 L369.55,316.36 L369.90,316.60 L370.25,316.82 L370.61,317.03 L370.96,317.24 L371.31,317.43 L371.66,317.62 L372.01,317.81 L372.37,318.01 L372.72,318.20 L373.07,318.40 L373.42,318.60 L373.78,318.80 L374.13,318.99 L374.48,319.19 L374.83,319.38 L375.19,319.57 L375.54,319.76 L375.89,319.94 L376.24,320.11 L376.59,320.27 L376.95,320.43 L377.30,320.58 L377.65,320.71 L378.00,320.83 L378.36,320.94 L378.71,321.05 L379.06,321.17 L379.41,321.28 L379.77,321.39 L380.12,321.49 L380.47,321.59 L380.82,321.68 L381.18,321.77 L381.53,321.84 L381.88,321.90 L382.23,321.95 L382.58,321.98 L382.94,322.00 L383.29,321.99 L383.64,321.95 L383.99,321.86 L384.35,321.75 L384.70,321.60 L385.05,321.43 L385.40,321.24 L385.76,321.04 L386.11,320.83 L386.46,320.62 L386.81,320.40 L387.17,320.15 L387.52,319.85 L387.87,319.50 L388.22,319.12 L388.57,318.70 L388.93,318.27 L389.28,317.82 L389.63,317.37 L389.98,316.93 L390.34,316.50 L390.69,316.10 L391.04,315.74 L391.39,315.40 L391.75,315.05 L392.10,314.70 L392.45,314.34 L392.80,313.98 L393.15,313.64 L393.51,313.30 L393.86,312.99 L394.21,312.70 L394.56,312.45 L394.92,312.23 L395.27,312.06 L395.62,311.93 L395.97,311.86 L396.33,311.79 L396.68,311.73 L397.03,311.68 L397.38,311.64 L397.74,311.61 L398.09,311.60 L398.44,311.62 L398.79,311.69 L399.14,311.79 L399.50,311.92 L399.85,312.08 L400.20,312.26 L400.55,312.46 L400.91,312.67 L401.26,312.88 L401.61,313.09 L401.96,313.30 L402.32,313.52 L402.67,313.78 L403.02,314.08 L403.37,314.40 L403.73,314.74 L404.08,315.09 L404.43,315.45 L404.78,315.82 L405.13,316.19 L405.49,316.55 L405.84,316.90 L406.19,317.23 L406.54,317.54 L406.90,317.82 L407.25,318.07 L407.60,318.28 L407.95,318.49 L408.31,318.70 L408.66,318.91 L409.01,319.12 L409.36,319.32 L409.71,319.50 L410.07,319.67 L410.42,319.81 L410.77,319.93 L411.12,320.02 L411.48,320.08 L411.83,320.10 L412.18,320.10 L412.53,320.10 L412.89,320.10 L413.24,320.10 L413.59,320.10 L413.94,320.10 L414.30,320.10 L414.65,320.10 L415.00,320.10 L415.00,407.80 Z" fill="#ff7043"/>
<path d="M83.80,407.80 L83.80,347.95 L84.15,347.95 L84.50,347.95 L84.86,347.95 L85.21,347.95 L85.56,347.95 L85.91,347.95 L86.27,347.95 L86.62,347.95 L86.97,347.95 L87.32,347.95 L87.68,347.95 L88.03,347.95 L88.38,347.95 L88.73,347.95 L89.09,347.95 L89.44,347.95 L89.79,347.95 L90.14,347.95 L90.49,347.95 L90.85,347.95 L91.20,347.95 L91.55,347.95 L91.90,347.95 L92.26,347.95 L92.61,347.95 L92.96,347.95 L93.31,347.95 L93.67,347.95 L94.02,347.95 L94.37,347.95 L94.72,347.95 L95.07,347.95 L95.43,347.95 L95.78,347.95 L96.13,347.95 L96.48,347.95 L96.84,347.95 L97.19,347.95 L97.54,347.95 L97.89,347.95 L98.25,347.95 L98.60,347.95 L98.95,347.95 L99.30,347.95 L99.66,347.95 L100.01,347.95 L100.36,347.95 L100.71,347.95 L101.06,347.95 L101.42,347.95 L101.77,347.95 L102.12,348.00 L102.47,348.11 L102.83,348.27 L103.18,348.47 L103.53,348.71 L103.88,348.97 L104.24,349.24 L104.59,349.52 L104.94,349.80 L105.29,350.10 L105.65,350.47 L106.00,350.87 L106.35,351.31 L106.70,351.77 L107.05,352.23 L107.41,352.69 L107.76,353.12 L108.11,353.52 L108.46,353.90 L108.82,354.29 L109.17,354.69 L109.52,355.08 L109.87,355.45 L110.23,355.80 L110.58,356.12 L110.93,356.40 L111.28,356.63 L111.63,356.80 L111.99,356.97 L112.34,357.12 L112.69,357.26 L113.04,357.39 L113.40,357.50 L113.75,357.60 L114.10,357.69 L114.45,357.76 L114.81,357.81 L115.16,357.86 L115.51,357.90 L115.86,357.94 L116.22,357.97 L116.57,357.99 L116.92,358.00 L117.27,358.00 L117.62,358.00 L117.98,358.00 L118.33,358.00 L118.68,358.00 L119.03,358.00 L119.39,358.00 L119.74,358.00 L120.09,358.00 L120.44,358.00 L120.80,358.00 L121.15,358.00 L121.50,358.00 L121.85,358.00 L122.21,358.00 L122.56,358.00 L122.91,358.00 L123.26,358.00 L123.61,358.00 L123.97,358.00 L124.32,358.00 L124.67,358.00 L125.02,358.00 L125.38,358.00 L125.73,358.00 L126.08,358.00 L126.43,358.00 L126.79,358.00 L127.14,358.00 L127.49,358.00 L127.84,358.00 L128.19,358.00 L128.55,358.00 L128.90,358.00 L129.25,358.00 L129.60,358.00 L129.96,358.00 L130.31,357.97 L130.66,357.89 L131.01,357.76 L131.37,357.59 L131.72,357.38 L132.07,357.16 L132.42,356.91 L132.78,356.66 L133.13,356.40 L133.48,356.10 L133.83,355.73 L134.18,355.31 L134.54,354.84 L134.89,354.33 L135.24,353.81 L135.59,353.29 L135.95,352.78 L136.30,352.30 L136.65,351.83 L137.00,351.34 L137.36,350.85 L137.71,350.35 L138.06,349.86 L138.41,349.37 L138.77,348.90 L139.12,348.44 L139.47,348.00 L139.82,347.56 L140.17,347.11 L140.53,346.66 L140.88,346.22 L141.23,345.81 L141.58,345.43 L141.94,345.10 L142.29,344.83 L142.64,344.63 L142.99,344.44 L143.35,344.27 L143.70,344.13 L144.05,344.03 L144.40,344.00 L144.75,344.00 L145.11,344.00 L145.46,344.00 L145.81,344.00 L146.16,344.00 L146.52,344.00 L146.87,344.00 L147.22,344.00 L147.57,344.00 L147.93,344.00 L148.28,344.00 L148.63,344.00 L148.98,344.00 L149.34,344.00 L149.69,344.00 L150.04,344.00 L150.39,344.00 L150.74,344.00 L151.10,344.00 L151.45,344.00 L151.80,344.00 L152.15,344.00 L152.51,344.00 L152.86,344.00 L153.21,344.00 L153.56,344.00 L153.92,344.00 L154.27,344.00 L154.62,344.00 L154.97,344.00 L155.33,344.00 L155.68,344.00 L156.03,344.00 L156.38,344.00 L156.73,344.03 L157.09,344.12 L157.44,344.26 L157.79,344.44 L158.14,344.65 L158.50,344.89 L158.85,345.16 L159.20,345.43 L159.55,345.72 L159.91,346.00 L160.26,346.31 L160.61,346.69 L160.96,347.12 L161.31,347.59 L161.67,348.09 L162.02,348.60 L162.37,349.11 L162.72,349.62 L163.08,350.11 L163.43,350.58 L163.78,351.07 L164.13,351.58 L164.49,352.09 L164.84,352.60 L165.19,353.10 L165.54,353.57 L165.90,354.01 L166.25,354.41 L166.60,354.77 L166.95,355.09 L167.30,355.41 L167.66,355.71 L168.01,356.00 L168.36,356.26 L168.71,356.51 L169.07,356.73 L169.42,356.93 L169.77,357.10 L170.12,357.26 L170.48,357.42 L170.83,357.57 L171.18,357.71 L171.53,357.82 L171.89,357.92 L172.24,357.98 L172.59,358.00 L172.94,358.00 L173.29,358.00 L173.65,358.00 L174.00,358.00 L174.35,358.00 L174.70,358.00 L175.06,358.00 L175.41,358.00 L175.76,358.00 L176.11,358.00 L176.47,358.00 L176.82,358.00 L177.17,358.00 L177.52,358.00 L177.87,358.00 L178.23,358.00 L178.58,358.00 L178.93,358.00 L179.28,358.00 L179.64,358.00 L179.99,358.00 L180.34,358.00 L180.69,358.00 L181.05,358.00 L181.40,358.00 L181.75,358.00 L182.10,358.00 L182.46,358.00 L182.81,358.00 L183.16,358.00 L183.51,358.00 L183.86,358.00 L184.22,358.00 L184.57,358.00 L184.92,358.00 L185.27,358.00 L185.63,358.00 L185.98,358.00 L186.33,358.00 L186.68,358.00 L187.04,357.97 L187.39,357.88 L187.74,357.74 L188.09,357.57 L188.45,357.37 L188.80,357.15 L189.15,356.92 L189.50,356.70 L189.85,356.46 L190.21,356.17 L190.56,355.86 L190.91,355.51 L191.26,355.14 L191.62,354.76 L191.97,354.37 L192.32,353.98 L192.67,353.60 L193.03,353.20 L193.38,352.76 L193.73,352.30 L194.08,351.82 L194.43,351.36 L194.79,350.91 L195.14,350.49 L195.49,350.11 L195.84,349.80 L196.20,349.51 L196.55,349.22 L196.90,348.94 L197.25,348.68 L197.61,348.45 L197.96,348.27 L198.31,348.15 L198.66,348.10 L199.02,348.09 L199.37,348.08 L199.72,348.08 L200.07,348.07 L200.42,348.06 L200.78,348.05 L201.13,348.05 L201.48,348.04 L201.83,348.04 L202.19,348.03 L202.54,348.02 L202.89,348.02 L203.24,348.01 L203.60,348.01 L203.95,348.00 L204.30,348.00 L204.65,348.00 L205.01,347.99 L205.36,347.99 L205.71,347.98 L206.06,347.98 L206.41,347.98 L206.77,347.98 L207.12,347.97 L207.47,347.97 L207.82,347.97 L208.18,347.97 L208.53,347.96 L208.88,347.96 L209.23,347.96 L209.59,347.96 L209.94,347.96 L210.29,347.96 L210.64,347.96 L210.99,347.95 L211.35,347.95 L211.70,347.95 L212.05,347.95 L212.40,347.95 L212.76,347.95 L213.11,347.95 L213.46,347.95 L213.81,347.95 L214.17,347.95 L214.52,347.95 L214.87,348.00 L215.22,348.11 L215.58,348.27 L215.93,348.47 L216.28,348.71 L216.63,348.97 L216.98,349.24 L217.34,349.52 L217.69,349.80 L218.04,350.10 L218.39,350.47 L218.75,350.87 L219.10,351.31 L219.45,351.77 L219.80,352.23 L220.16,352.69 L220.51,353.12 L220.86,353.52 L221.21,353.90 L221.57,354.29 L221.92,354.69 L222.27,355.08 L222.62,355.45 L222.97,355.80 L223.33,356.12 L223.68,356.40 L224.03,356.63 L224.38,356.80 L224.74,356.97 L225.09,357.12 L225.44,357.26 L225.79,357.39 L226.15,357.50 L226.50,357.60 L226.85,357.69 L227.20,357.76 L227.55,357.81 L227.91,357.86 L228.26,357.90 L228.61,357.94 L228.96,357.97 L229.32,357.99 L229.67,358.00 L230.02,358.00 L230.37,358.00 L230.73,358.00 L231.08,358.00 L231.43,358.00 L231.78,358.00 L232.14,358.00 L232.49,358.00 L232.84,358.00 L233.19,358.00 L233.54,358.00 L233.90,358.00 L234.25,358.00 L234.60,358.00 L234.95,358.00 L235.31,358.00 L235.66,358.00 L236.01,358.00 L236.36,358.00 L236.72,358.00 L237.07,358.00 L237.42,358.00 L237.77,358.00 L238.13,358.00 L238.48,358.00 L238.83,358.00 L239.18,358.00 L239.53,358.00 L239.89,358.00 L240.24,358.00 L240.59,358.00 L240.94,358.00 L241.30,358.00 L241.65,358.00 L242.00,358.00 L242.35,358.00 L242.71,358.00 L243.06,357.97 L243.41,357.89 L243.76,357.76 L244.11,357.59 L244.47,357.38 L244.82,357.16 L245.17,356.91 L245.52,356.66 L245.88,356.40 L246.23,356.10 L246.58,355.73 L246.93,355.31 L247.29,354.84 L247.64,354.33 L247.99,353.81 L248.34,353.29 L248.70,352.78 L249.05,352.30 L249.40,351.83 L249.75,351.34 L250.10,350.85 L250.46,350.35 L250.81,349.86 L251.16,349.37 L251.51,348.90 L251.87,348.44 L252.22,348.00 L252.57,347.56 L252.92,347.11 L253.28,346.66 L253.63,346.22 L253.98,345.81 L254.33,345.43 L254.69,345.10 L255.04,344.83 L255.39,344.63 L255.74,344.44 L256.09,344.27 L256.45,344.13 L256.80,344.03 L257.15,344.00 L257.50,344.00 L257.86,344.00 L258.21,344.00 L258.56,344.00 L258.91,344.00 L259.27,344.00 L259.62,344.00 L259.97,344.00 L260.32,344.00 L260.67,344.00 L261.03,344.00 L261.38,344.00 L261.73,344.00 L262.08,344.00 L262.44,344.00 L262.79,344.00 L263.14,344.00 L263.49,344.00 L263.85,344.00 L264.20,344.00 L264.55,344.00 L264.90,344.00 L265.26,344.00 L265.61,344.00 L265.96,344.00 L266.31,344.00 L266.66,344.00 L267.02,344.00 L267.37,344.00 L267.72,344.00 L268.07,344.00 L268.43,344.00 L268.78,344.00 L269.13,344.00 L269.48,344.03 L269.84,344.12 L270.19,344.26 L270.54,344.44 L270.89,344.65 L271.25,344.89 L271.60,345.16 L271.95,345.43 L272.30,345.72 L272.65,346.00 L273.01,346.31 L273.36,346.69 L273.71,347.12 L274.06,347.59 L274.42,348.09 L274.77,348.60 L275.12,349.11 L275.47,349.62 L275.83,350.11 L276.18,350.58 L276.53,351.07 L276.88,351.58 L277.23,352.09 L277.59,352.60 L277.94,353.10 L278.29,353.57 L278.64,354.01 L279.00,354.41 L279.35,354.77 L279.70,355.09 L280.05,355.41 L280.41,355.71 L280.76,356.00 L281.11,356.26 L281.46,356.51 L281.82,356.73 L282.17,356.93 L282.52,357.10 L282.87,357.26 L283.22,357.42 L283.58,357.57 L283.93,357.71 L284.28,357.82 L284.63,357.92 L284.99,357.98 L285.34,358.00 L285.69,358.00 L286.04,358.00 L286.40,358.00 L286.75,358.00 L287.10,358.00 L287.45,358.00 L287.81,358.00 L288.16,358.00 L288.51,358.00 L288.86,358.00 L289.21,358.00 L289.57,358.00 L289.92,358.00 L290.27,358.00 L290.62,358.00 L290.98,358.00 L291.33,358.00 L291.68,358.00 L292.03,358.00 L292.39,358.00 L292.74,358.00 L293.09,358.00 L293.44,358.00 L293.79,358.00 L294.15,358.00 L294.50,358.00 L294.85,358.00 L295.20,358.00 L295.56,358.00 L295.91,358.00 L296.26,358.00 L296.61,358.00 L296.97,358.00 L297.32,358.00 L297.67,358.00 L298.02,358.00 L298.38,358.00 L298.73,358.00 L299.08,358.00 L299.43,358.00 L299.78,357.97 L300.14,357.89 L300.49,357.77 L300.84,357.60 L301.19,357.41 L301.55,357.19 L301.90,356.95 L302.25,356.70 L302.60,356.36 L302.96,355.87 L303.31,355.25 L303.66,354.53 L304.01,353.75 L304.37,352.92 L304.72,352.07 L305.07,351.24 L305.42,350.45 L305.77,349.73 L306.13,349.10 L306.48,348.60 L306.83,348.19 L307.18,347.80 L307.54,347.44 L307.89,347.11 L308.24,346.80 L308.59,346.51 L308.95,346.24 L309.30,346.00 L309.65,345.76 L310.00,345.51 L310.35,345.27 L310.71,345.03 L311.06,344.81 L311.41,344.61 L311.76,344.45 L312.12,344.32 L312.47,344.23 L312.82,344.20 L313.17,344.20 L313.53,344.19 L313.88,344.19 L314.23,344.18 L314.58,344.18 L314.94,344.18 L315.29,344.17 L315.64,344.17 L315.99,344.16 L316.34,344.16 L316.70,344.16 L317.05,344.15 L317.40,344.15 L317.75,344.15 L318.11,344.14 L318.46,344.14 L318.81,344.14 L319.16,344.13 L319.52,344.13 L319.87,344.13 L320.22,344.12 L320.57,344.12 L320.93,344.12 L321.28,344.11 L321.63,344.11 L321.98,344.11 L322.33,344.10 L322.69,344.10 L323.04,344.10 L323.39,344.10 L323.74,344.09 L324.10,344.09 L324.45,344.09 L324.80,344.09 L325.15,344.08 L325.51,344.08 L325.86,344.08 L326.21,344.08 L326.56,344.07 L326.91,344.07 L327.27,344.07 L327.62,344.07 L327.97,344.07 L328.32,344.06 L328.68,344.06 L329.03,344.06 L329.38,344.06 L329.73,344.06 L330.09,344.05 L330.44,344.05 L330.79,344.05 L331.14,344.05 L331.50,344.05 L331.85,344.05 L332.20,344.04 L332.55,344.04 L332.90,344.04 L333.26,344.04 L333.61,344.04 L333.96,344.04 L334.31,344.04 L334.67,344.03 L335.02,344.03 L335.37,344.03 L335.72,344.03 L336.08,344.03 L336.43,344.03 L336.78,344.03 L337.13,344.03 L337.49,344.02 L337.84,344.02 L338.19,344.02 L338.54,344.02 L338.89,344.02 L339.25,344.02 L339.60,344.02 L339.95,344.02 L340.30,344.02 L340.66,344.02 L341.01,344.01 L341.36,344.01 L341.71,344.01 L342.07,344.01 L342.42,344.01 L342.77,344.01 L343.12,344.01 L343.47,344.01 L343.83,344.01 L344.18,344.01 L344.53,344.01 L344.88,344.01 L345.24,344.01 L345.59,344.01 L345.94,344.01 L346.29,344.01 L346.65,344.01 L347.00,344.01 L347.35,344.00 L347.70,344.00 L348.06,344.00 L348.41,344.00 L348.76,344.00 L349.11,344.00 L349.46,344.00 L349.82,344.00 L350.17,344.00 L350.52,344.00 L350.87,344.00 L351.23,344.00 L351.58,344.00 L351.93,344.00 L352.28,344.00 L352.64,344.00 L352.99,344.00 L353.34,344.00 L353.69,344.00 L354.05,344.00 L354.40,344.00 L354.75,344.00 L355.10,344.00 L355.45,344.00 L355.81,344.00 L356.16,344.00 L356.51,344.00 L356.86,344.00 L357.22,344.00 L357.57,344.00 L357.92,344.00 L358.27,344.07 L358.63,344.25 L358.98,344.52 L359.33,344.84 L359.68,345.19 L360.03,345.53 L360.39,345.84 L360.74,346.13 L361.09,346.43 L361.44,346.75 L361.80,347.07 L362.15,347.39 L362.50,347.70 L362.85,348.00 L363.21,348.28 L363.56,348.52 L363.91,348.73 L364.26,348.90 L364.62,349.06 L364.97,349.21 L365.32,349.36 L365.67,349.50 L366.02,349.63 L366.38,349.75 L366.73,349.86 L367.08,349.96 L367.43,350.05 L367.79,350.13 L368.14,350.20 L368.49,350.25 L368.84,350.30 L369.20,350.34 L369.55,350.38 L369.90,350.42 L370.25,350.45 L370.61,350.48 L370.96,350.49 L371.31,350.50 L371.66,350.50 L372.01,350.50 L372.37,350.50 L372.72,350.50 L373.07,350.50 L373.42,350.50 L373.78,350.50 L374.13,350.50 L374.48,350.50 L374.83,350.50 L375.19,350.50 L375.54,350.50 L375.89,350.50 L376.24,350.50 L376.59,350.50 L376.95,350.50 L377.30,350.50 L377.65,350.50 L378.00,350.50 L378.36,350.50 L378.71,350.50 L379.06,350.50 L379.41,350.50 L379.77,350.50 L380.12,350.50 L380.47,350.50 L380.82,350.50 L381.18,350.50 L381.53,350.50 L381.88,350.50 L382.23,350.50 L382.58,350.50 L382.94,350.50 L383.29,350.50 L383.64,350.50 L383.99,350.47 L384.35,350.39 L384.70,350.27 L385.05,350.12 L385.40,349.94 L385.76,349.74 L386.11,349.52 L386.46,349.31 L386.81,349.10 L387.17,348.87 L387.52,348.59 L387.87,348.27 L388.22,347.93 L388.57,347.58 L388.93,347.23 L389.28,346.90 L389.63,346.60 L389.98,346.33 L390.34,346.12 L390.69,345.91 L391.04,345.71 L391.39,345.52 L391.75,345.33 L392.10,345.15 L392.45,344.99 L392.80,344.83 L393.15,344.69 L393.51,344.57 L393.86,344.46 L394.21,344.37 L394.56,344.30 L394.92,344.24 L395.27,344.19 L395.62,344.14 L395.97,344.09 L396.33,344.05 L396.68,344.03 L397.03,344.01 L397.38,344.00 L397.74,344.00 L398.09,344.00 L398.44,344.00 L398.79,344.00 L399.14,344.00 L399.50,344.00 L399.85,344.00 L400.20,344.00 L400.55,344.00 L400.91,344.00 L401.26,344.00 L401.61,344.00 L401.96,344.00 L402.32,344.00 L402.67,344.00 L403.02,344.00 L403.37,344.00 L403.73,344.00 L404.08,344.00 L404.43,344.00 L404.78,344.00 L405.13,344.00 L405.49,344.00 L405.84,344.00 L406.19,344.00 L406.54,344.00 L406.90,344.00 L407.25,344.00 L407.60,344.00 L407.95,344.00 L408.31,344.00 L408.66,344.00 L409.01,344.00 L409.36,344.00 L409.71,344.00 L410.07,344.00 L410.42,344.00 L410.77,344.00 L411.12,344.00 L411.48,344.00 L411.83,344.00 L412.18,344.00 L412.53,344.00 L412.89,344.00 L413.24,344.00 L413.59,344.00 L413.94,344.00 L414.30,344.00 L414.65,344.00 L415.00,344.00 L415.00,407.80 Z" fill="#05425c"/>
<rect x="83.80" y="397.80" width="331.20" height="10.00" fill="#17a18a"/>
<line x1="83.80" y1="229.30" x2="415.00" y2="229.30" stroke="#111" stroke-width="1"/>
<line x1="104.94" y1="229.80" x2="104.94" y2="407.80" stroke="#999" stroke-opacity="0.6" stroke-width="0.7" stroke-dasharray="1,1.3"/>
<line x1="133.13" y1="229.80" x2="133.13" y2="407.80" stroke="#999" stroke-opacity="0.6" stroke-width="0.7" stroke-dasharray="1,1.3"/>
<line x1="161.31" y1="229.80" x2="161.31" y2="407.80" stroke="#999" stroke-opacity="0.6" stroke-width="0.7" stroke-dasharray="1,1.3"/>
<line x1="189.50" y1="229.80" x2="189.50" y2="407.80" stroke="#999" stroke-opacity="0.6" stroke-width="0.7" stroke-dasharray="1,1.3"/>
<line x1="217.69" y1="229.80" x2="217.69" y2="407.80" stroke="#999" stroke-opacity="0.6" stroke-width="0.7" stroke-dasharray="1,1.3"/>
<line x1="245.88" y1="229.80" x2="245.88" y2="407.80" stroke="#999" stroke-opacity="0.6" stroke-width="0.7" stroke-dasharray="1,1.3"/>
<line x1="274.06" y1="229.80" x2="274.06" y2="407.80" stroke="#999" stroke-opacity="0.6" stroke-width="0.7" stroke-dasharray="1,1.3"/>
<line x1="302.25" y1="229.80" x2="302.25" y2="407.80" stroke="#999" stroke-opacity="0.6" stroke-width="0.7" stroke-dasharray="1,1.3"/>
<line x1="330.44" y1="229.80" x2="330.44" y2="407.80" stroke="#999" stroke-opacity="0.6" stroke-width="0.7" stroke-dasharray="1,1.3"/>
<line x1="358.63" y1="229.80" x2="358.63" y2="407.80" stroke="#999" stroke-opacity="0.6" stroke-width="0.7" stroke-dasharray="1,1.3"/>
<line x1="386.81" y1="229.80" x2="386.81" y2="407.80" stroke="#999" stroke-opacity="0.6" stroke-width="0.7" stroke-dasharray="1,1.3"/>
<text x="104.94" y="421.3" text-anchor="middle" font-family="Liberation Serif, Times New Roman, serif" font-size="12" textLength="5.65" lengthAdjust="spacingAndGlyphs" fill="#000">4</text>
<text x="133.13" y="421.3" text-anchor="middle" font-family="Liberation Serif, Times New Roman, serif" font-size="12" textLength="5.65" lengthAdjust="spacingAndGlyphs" fill="#000">8</text>
<text x="161.31" y="421.3" text-anchor="middle" font-family="Liberation Serif, Times New Roman, serif" font-size="12" textLength="11.30" lengthAdjust="spacingAndGlyphs" fill="#000">12</text>
<text x="189.50" y="421.3" text-anchor="middle" font-family="Liberation Serif, Times New Roman, serif" font-size="12" textLength="11.30" lengthAdjust="spacingAndGlyphs" fill="#000">16</text>
<text x="217.69" y="421.3" text-anchor="middle" font-family="Liberation Serif, Times New Roman, serif" font-size="12" textLength="11.30" lengthAdjust="spacingAndGlyphs" fill="#000">20</text>
<text x="245.88" y="421.3" text-anchor="middle" font-family="Liberation Serif, Times New Roman, serif" font-size="12" textLength="11.30" lengthAdjust="spacingAndGlyphs" fill="#000">24</text>
<text x="274.06" y="421.3" text-anchor="middle" font-family="Liberation Serif, Times New Roman, serif" font-size="12" textLength="11.30" lengthAdjust="spacingAndGlyphs" fill="#000">28</text>
<text x="302.25" y="421.3" text-anchor="middle" font-family="Liberation Serif, Times New Roman, serif" font-size="12" textLength="11.30" lengthAdjust="spacingAndGlyphs" fill="#000">32</text>
<text x="330.44" y="421.3" text-anchor="middle" font-family="Liberation Serif, Times New Roman, serif" font-size="12" textLength="11.30" lengthAdjust="spacingAndGlyphs" fill="#000">36</text>
<text x="358.63" y="421.3" text-anchor="middle" font-family="Liberation Serif, Times New Roman, serif" font-size="12" textLength="11.30" lengthAdjust="spacingAndGlyphs" fill="#000">40</text>
<text x="386.81" y="421.3" text-anchor="middle" font-family="Liberation Serif, Times New Roman, serif" font-size="12" textLength="11.30" lengthAdjust="spacingAndGlyphs" fill="#000">44</text>
<text x="415.00" y="421.3" text-anchor="middle" font-family="Liberation Serif, Times New Roman, serif" font-size="12" textLength="11.30" lengthAdjust="spacingAndGlyphs" fill="#000">48</text>
<text x="250" y="439.7" text-anchor="middle" font-family="Liberation Serif, Times New Roman, serif" font-size="12" textLength="52.6" lengthAdjust="spacingAndGlyphs" fill="#000">Time(node)</text>
<text transform="translate(75.2,318) rotate(-90)" text-anchor="middle" font-family="Liberation Serif, Times New Roman, serif" font-size="11.8" textLength="31.6" lengthAdjust="spacingAndGlyphs" fill="#000">Energy</text>
<rect x="419.7" y="232.30" width="25.4" height="12" fill="#17a18a"/>
<text x="448.7" y="242.30" font-family="Liberation Serif, Times New Roman, serif" font-size="11.4" fill="#111">Level 2</text>
<rect x="419.7" y="246.57" width="25.4" height="12" fill="#05425c"/>
<text x="448.7" y="256.57" font-family="Liberation Serif, Times New Roman, serif" font-size="11.4" fill="#111">Level 3</text>
<rect x="419.7" y="260.84" width="25.4" height="12" fill="#ff7043"/>
<text x="448.7" y="270.84" font-family="Liberation Serif, Times New Roman, serif" font-size="11.4" fill="#111">Level 4</text>
<rect x="419.7" y="275.11" width="25.4" height="12" fill="#f5c469"/>
<text x="448.7" y="285.11" font-family="Liberation Serif, Times New Roman, serif" font-size="11.4" fill="#111">Level 5</text>
</svg>
</body></html>
